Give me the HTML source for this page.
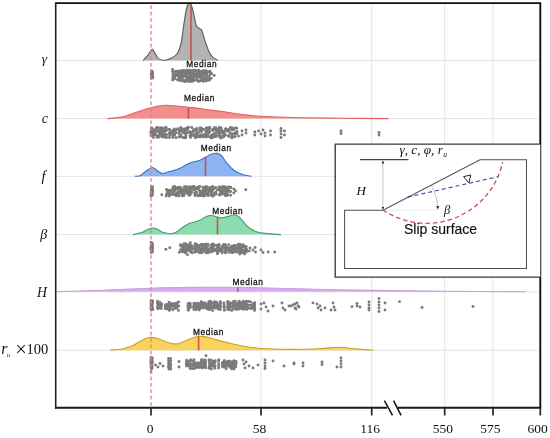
<!DOCTYPE html>
<html><head><meta charset="utf-8"><title>Raincloud plot</title>
<style>html,body{margin:0;padding:0;background:#fff;}body{width:550px;height:438px;position:relative;overflow:hidden;}</style>
</head><body>
<svg width="550" height="438" viewBox="0 0 550 438" style="position:absolute;left:0;top:0">
<line x1="56" y1="60.5" x2="540" y2="60.5" stroke="#e4e4e4" stroke-width="1"/>
<line x1="56" y1="118.6" x2="540" y2="118.6" stroke="#e4e4e4" stroke-width="1"/>
<line x1="56" y1="176.3" x2="540" y2="176.3" stroke="#e4e4e4" stroke-width="1"/>
<line x1="56" y1="234.6" x2="540" y2="234.6" stroke="#e4e4e4" stroke-width="1"/>
<line x1="56" y1="291.8" x2="540" y2="291.8" stroke="#e4e4e4" stroke-width="1"/>
<line x1="56" y1="350.3" x2="540" y2="350.3" stroke="#e4e4e4" stroke-width="1"/>
<line x1="261.0" y1="4" x2="261.0" y2="407" stroke="#e4e4e4" stroke-width="1"/>
<line x1="371.7" y1="4" x2="371.7" y2="407" stroke="#e4e4e4" stroke-width="1"/>
<line x1="444.7" y1="4" x2="444.7" y2="407" stroke="#e4e4e4" stroke-width="1"/>
<line x1="493.0" y1="4" x2="493.0" y2="407" stroke="#e4e4e4" stroke-width="1"/>
<path d="M143.1,60.4 C143.9,59.6 146.2,57.2 147.7,55.4 C149.2,53.6 150.8,49.6 152.1,49.4 C153.4,49.2 154.4,52.7 155.5,54.2 C156.6,55.7 157.0,57.6 158.5,58.6 C160.0,59.6 162.6,60.3 164.7,60.2 C166.8,60.1 168.8,59.3 170.9,58.2 C173.0,57.1 175.4,56.3 177.1,53.8 C178.8,51.4 179.8,48.6 181.0,43.5 C182.2,38.4 183.1,29.1 184.0,23.4 C184.9,17.7 185.6,12.9 186.4,9.5 C187.2,6.1 188.2,3.3 189.1,2.8 C190.0,2.3 191.0,4.2 191.8,6.4 C192.6,8.6 193.3,12.5 194.1,15.7 C194.9,18.9 195.5,23.6 196.4,25.7 C197.3,27.8 198.6,27.8 199.5,28.6 C200.4,29.4 200.9,28.5 201.8,30.5 C202.7,32.5 203.7,37.0 204.9,40.4 C206.1,43.9 207.5,48.4 208.8,51.2 C210.1,54.0 211.1,55.7 212.6,57.2 C214.1,58.7 217.1,59.9 218.0,60.4 L218.0,60.4 L143.1,60.4 Z" fill="#b3b3b3" stroke="none"/>
<path d="M143.1,60.4 C143.9,59.6 146.2,57.2 147.7,55.4 C149.2,53.6 150.8,49.6 152.1,49.4 C153.4,49.2 154.4,52.7 155.5,54.2 C156.6,55.7 157.0,57.6 158.5,58.6 C160.0,59.6 162.6,60.3 164.7,60.2 C166.8,60.1 168.8,59.3 170.9,58.2 C173.0,57.1 175.4,56.3 177.1,53.8 C178.8,51.4 179.8,48.6 181.0,43.5 C182.2,38.4 183.1,29.1 184.0,23.4 C184.9,17.7 185.6,12.9 186.4,9.5 C187.2,6.1 188.2,3.3 189.1,2.8 C190.0,2.3 191.0,4.2 191.8,6.4 C192.6,8.6 193.3,12.5 194.1,15.7 C194.9,18.9 195.5,23.6 196.4,25.7 C197.3,27.8 198.6,27.8 199.5,28.6 C200.4,29.4 200.9,28.5 201.8,30.5 C202.7,32.5 203.7,37.0 204.9,40.4 C206.1,43.9 207.5,48.4 208.8,51.2 C210.1,54.0 211.1,55.7 212.6,57.2 C214.1,58.7 217.1,59.9 218.0,60.4" fill="none" stroke="#595959" stroke-width="1.1"/>
<line x1="191.0" y1="5.3" x2="191.0" y2="60.4" stroke="#cf4747" stroke-opacity="0.92" stroke-width="1.6"/>
<path d="M107.3,118.6 C109.1,118.4 114.9,118.1 118.2,117.6 C121.5,117.1 124.3,116.4 127.3,115.5 C130.3,114.6 133.4,113.2 136.4,112.2 C139.4,111.2 143.1,110.0 145.5,109.3 C147.9,108.6 148.8,108.3 150.9,107.8 C153.0,107.2 155.8,106.4 158.2,106.0 C160.6,105.6 162.5,105.3 165.5,105.3 C168.5,105.3 172.6,105.7 176.4,106.0 C180.2,106.3 184.6,106.9 188.5,107.3 C192.4,107.7 196.4,108.0 200.0,108.5 C203.6,109.0 205.7,109.4 210.0,110.0 C214.3,110.6 221.0,111.3 226.0,112.0 C231.0,112.7 234.3,113.7 240.0,114.4 C245.7,115.1 253.3,115.8 260.0,116.2 C266.7,116.6 273.3,116.7 280.0,117.0 C286.7,117.3 290.0,117.6 300.0,117.8 C310.0,118.0 325.3,118.1 340.0,118.2 C354.7,118.3 380.3,118.5 388.4,118.6 L388.4,118.6 L107.3,118.6 Z" fill="#f48e8e" stroke="none"/>
<path d="M107.3,118.6 C109.1,118.4 114.9,118.1 118.2,117.6 C121.5,117.1 124.3,116.4 127.3,115.5 C130.3,114.6 133.4,113.2 136.4,112.2 C139.4,111.2 143.1,110.0 145.5,109.3 C147.9,108.6 148.8,108.3 150.9,107.8 C153.0,107.2 155.8,106.4 158.2,106.0 C160.6,105.6 162.5,105.3 165.5,105.3 C168.5,105.3 172.6,105.7 176.4,106.0 C180.2,106.3 184.6,106.9 188.5,107.3 C192.4,107.7 196.4,108.0 200.0,108.5 C203.6,109.0 205.7,109.4 210.0,110.0 C214.3,110.6 221.0,111.3 226.0,112.0 C231.0,112.7 234.3,113.7 240.0,114.4 C245.7,115.1 253.3,115.8 260.0,116.2 C266.7,116.6 273.3,116.7 280.0,117.0 C286.7,117.3 290.0,117.6 300.0,117.8 C310.0,118.0 325.3,118.1 340.0,118.2 C354.7,118.3 380.3,118.5 388.4,118.6" fill="none" stroke="#e06464" stroke-width="1.1"/>
<line x1="188.5" y1="107.3" x2="188.5" y2="118.6" stroke="#cf4747" stroke-opacity="0.92" stroke-width="1.6"/>
<path d="M134.8,176.3 C135.7,176.2 138.3,176.5 140.0,175.8 C141.7,175.0 143.2,173.1 145.1,171.8 C147.0,170.4 149.9,168.3 151.4,167.7 C152.9,167.1 153.0,167.5 154.2,168.2 C155.4,168.9 157.4,170.9 158.8,171.8 C160.2,172.7 161.3,173.5 162.8,173.5 C164.3,173.5 166.1,172.5 167.9,172.0 C169.7,171.5 171.6,171.1 173.5,170.5 C175.4,169.9 177.2,169.5 179.3,168.6 C181.4,167.7 183.6,166.2 185.8,165.1 C188.0,164.0 190.2,162.8 192.4,162.1 C194.6,161.4 196.7,161.6 198.9,160.8 C201.1,160.0 203.3,158.2 205.5,157.1 C207.7,156.0 210.0,154.6 212.0,154.0 C214.0,153.4 215.9,153.1 217.5,153.4 C219.1,153.7 220.2,154.3 221.8,156.0 C223.4,157.7 225.3,161.2 227.3,163.6 C229.3,166.0 231.3,168.4 233.8,170.2 C236.3,172.0 239.6,173.5 242.5,174.5 C245.4,175.5 249.8,176.0 251.3,176.3 L251.3,176.3 L134.8,176.3 Z" fill="#8db3f2" stroke="none"/>
<path d="M134.8,176.3 C135.7,176.2 138.3,176.5 140.0,175.8 C141.7,175.0 143.2,173.1 145.1,171.8 C147.0,170.4 149.9,168.3 151.4,167.7 C152.9,167.1 153.0,167.5 154.2,168.2 C155.4,168.9 157.4,170.9 158.8,171.8 C160.2,172.7 161.3,173.5 162.8,173.5 C164.3,173.5 166.1,172.5 167.9,172.0 C169.7,171.5 171.6,171.1 173.5,170.5 C175.4,169.9 177.2,169.5 179.3,168.6 C181.4,167.7 183.6,166.2 185.8,165.1 C188.0,164.0 190.2,162.8 192.4,162.1 C194.6,161.4 196.7,161.6 198.9,160.8 C201.1,160.0 203.3,158.2 205.5,157.1 C207.7,156.0 210.0,154.6 212.0,154.0 C214.0,153.4 215.9,153.1 217.5,153.4 C219.1,153.7 220.2,154.3 221.8,156.0 C223.4,157.7 225.3,161.2 227.3,163.6 C229.3,166.0 231.3,168.4 233.8,170.2 C236.3,172.0 239.6,173.5 242.5,174.5 C245.4,175.5 249.8,176.0 251.3,176.3" fill="none" stroke="#3a72c8" stroke-width="1.1"/>
<line x1="205.5" y1="157.1" x2="205.5" y2="176.3" stroke="#cf4747" stroke-opacity="0.92" stroke-width="1.6"/>
<path d="M132.9,234.6 C134.3,234.3 139.3,233.4 141.6,232.6 C143.9,231.8 144.9,230.8 146.7,230.0 C148.5,229.2 150.7,228.1 152.5,228.0 C154.3,227.9 155.8,228.6 157.6,229.4 C159.4,230.2 161.3,231.9 163.5,232.6 C165.7,233.3 168.5,233.8 170.7,233.7 C172.9,233.6 174.6,232.9 176.5,231.9 C178.4,230.9 180.5,228.8 182.4,227.5 C184.3,226.2 186.3,224.8 188.2,223.9 C190.1,223.0 192.1,222.8 194.0,222.2 C195.9,221.6 197.7,221.3 199.8,220.3 C201.9,219.3 204.6,217.2 206.5,216.4 C208.4,215.6 209.7,215.4 211.5,215.5 C213.3,215.6 215.3,216.6 217.2,217.0 C219.1,217.4 220.8,218.0 222.9,217.8 C225.0,217.6 227.6,216.5 229.5,216.0 C231.4,215.5 232.8,214.5 234.4,214.7 C236.0,214.9 237.7,215.8 239.3,217.2 C240.9,218.6 242.6,221.1 244.2,222.9 C245.8,224.7 247.2,226.4 249.1,227.8 C251.0,229.2 252.9,230.5 255.6,231.4 C258.3,232.3 261.3,232.9 265.5,233.4 C269.7,233.9 278.4,234.4 281.0,234.6 L281.0,234.6 L132.9,234.6 Z" fill="#8ddcb0" stroke="none"/>
<path d="M132.9,234.6 C134.3,234.3 139.3,233.4 141.6,232.6 C143.9,231.8 144.9,230.8 146.7,230.0 C148.5,229.2 150.7,228.1 152.5,228.0 C154.3,227.9 155.8,228.6 157.6,229.4 C159.4,230.2 161.3,231.9 163.5,232.6 C165.7,233.3 168.5,233.8 170.7,233.7 C172.9,233.6 174.6,232.9 176.5,231.9 C178.4,230.9 180.5,228.8 182.4,227.5 C184.3,226.2 186.3,224.8 188.2,223.9 C190.1,223.0 192.1,222.8 194.0,222.2 C195.9,221.6 197.7,221.3 199.8,220.3 C201.9,219.3 204.6,217.2 206.5,216.4 C208.4,215.6 209.7,215.4 211.5,215.5 C213.3,215.6 215.3,216.6 217.2,217.0 C219.1,217.4 220.8,218.0 222.9,217.8 C225.0,217.6 227.6,216.5 229.5,216.0 C231.4,215.5 232.8,214.5 234.4,214.7 C236.0,214.9 237.7,215.8 239.3,217.2 C240.9,218.6 242.6,221.1 244.2,222.9 C245.8,224.7 247.2,226.4 249.1,227.8 C251.0,229.2 252.9,230.5 255.6,231.4 C258.3,232.3 261.3,232.9 265.5,233.4 C269.7,233.9 278.4,234.4 281.0,234.6" fill="none" stroke="#3f9c6c" stroke-width="1.1"/>
<line x1="217.5" y1="217.0" x2="217.5" y2="234.6" stroke="#cf4747" stroke-opacity="0.92" stroke-width="1.6"/>
<path d="M56.5,291.8 C63.8,291.6 84.4,290.9 100.0,290.3 C115.6,289.7 133.3,288.7 150.0,288.2 C166.7,287.7 185.0,287.5 200.0,287.4 C215.0,287.2 225.0,287.1 240.0,287.3 C255.0,287.5 273.3,288.2 290.0,288.6 C306.7,289.0 323.3,289.5 340.0,289.8 C356.7,290.1 371.7,290.4 390.0,290.6 C408.3,290.8 427.3,291.0 450.0,291.2 C472.7,291.4 513.3,291.7 526.0,291.8 L526.0,291.8 L56.5,291.8 Z" fill="#d9abf2" stroke="none"/>
<path d="M56.5,291.8 C63.8,291.6 84.4,290.9 100.0,290.3 C115.6,289.7 133.3,288.7 150.0,288.2 C166.7,287.7 185.0,287.5 200.0,287.4 C215.0,287.2 225.0,287.1 240.0,287.3 C255.0,287.5 273.3,288.2 290.0,288.6 C306.7,289.0 323.3,289.5 340.0,289.8 C356.7,290.1 371.7,290.4 390.0,290.6 C408.3,290.8 427.3,291.0 450.0,291.2 C472.7,291.4 513.3,291.7 526.0,291.8" fill="none" stroke="#c6a0e2" stroke-width="1.1"/>
<line x1="237.8" y1="287.3" x2="237.8" y2="291.8" stroke="#cf4747" stroke-opacity="0.92" stroke-width="1.6"/>
<path d="M110.2,350.3 C112.1,350.1 118.2,349.7 121.8,349.0 C125.4,348.3 128.8,347.4 132.0,346.1 C135.2,344.8 138.0,342.4 140.7,341.0 C143.4,339.6 146.2,338.4 148.0,337.8 C149.8,337.2 149.9,337.2 151.6,337.4 C153.3,337.6 155.9,338.1 158.2,338.8 C160.5,339.5 163.1,340.9 165.5,341.7 C167.9,342.5 170.6,343.3 172.7,343.6 C174.8,343.9 175.9,344.2 178.2,343.7 C180.5,343.2 183.9,341.5 186.4,340.5 C188.9,339.5 190.7,338.4 192.9,337.7 C195.1,337.0 197.3,336.5 199.5,336.4 C201.7,336.3 203.3,336.4 206.0,336.9 C208.7,337.4 212.2,338.7 215.8,339.6 C219.4,340.6 222.7,341.5 227.3,342.6 C231.9,343.7 237.7,345.2 243.6,346.2 C249.5,347.2 255.3,348.0 262.7,348.5 C270.1,349.0 278.9,349.3 288.2,349.4 C297.5,349.4 310.2,349.2 318.7,348.8 C327.2,348.4 333.5,347.2 339.0,347.2 C344.5,347.1 346.1,348.0 351.8,348.5 C357.5,349.0 369.8,350.0 373.4,350.3 L373.4,350.3 L110.2,350.3 Z" fill="#f9d35c" stroke="none"/>
<path d="M110.2,350.3 C112.1,350.1 118.2,349.7 121.8,349.0 C125.4,348.3 128.8,347.4 132.0,346.1 C135.2,344.8 138.0,342.4 140.7,341.0 C143.4,339.6 146.2,338.4 148.0,337.8 C149.8,337.2 149.9,337.2 151.6,337.4 C153.3,337.6 155.9,338.1 158.2,338.8 C160.5,339.5 163.1,340.9 165.5,341.7 C167.9,342.5 170.6,343.3 172.7,343.6 C174.8,343.9 175.9,344.2 178.2,343.7 C180.5,343.2 183.9,341.5 186.4,340.5 C188.9,339.5 190.7,338.4 192.9,337.7 C195.1,337.0 197.3,336.5 199.5,336.4 C201.7,336.3 203.3,336.4 206.0,336.9 C208.7,337.4 212.2,338.7 215.8,339.6 C219.4,340.6 222.7,341.5 227.3,342.6 C231.9,343.7 237.7,345.2 243.6,346.2 C249.5,347.2 255.3,348.0 262.7,348.5 C270.1,349.0 278.9,349.3 288.2,349.4 C297.5,349.4 310.2,349.2 318.7,348.8 C327.2,348.4 333.5,347.2 339.0,347.2 C344.5,347.1 346.1,348.0 351.8,348.5 C357.5,349.0 369.8,350.0 373.4,350.3" fill="none" stroke="#c9a12a" stroke-width="1.1"/>
<line x1="198.6" y1="336.6" x2="198.6" y2="350.3" stroke="#cf4747" stroke-opacity="0.92" stroke-width="1.6"/>
<g fill="#7b7b7b">
<circle cx="151.5" cy="71.0" r="1.45"/>
<circle cx="151.4" cy="72.1" r="1.45"/>
<circle cx="151.7" cy="73.1" r="1.45"/>
<circle cx="151.3" cy="74.2" r="1.45"/>
<circle cx="151.6" cy="75.3" r="1.45"/>
<circle cx="151.5" cy="76.4" r="1.45"/>
<circle cx="151.3" cy="77.4" r="1.45"/>
<circle cx="151.6" cy="78.5" r="1.45"/>
<circle cx="152.3" cy="71.5" r="1.45"/>
<circle cx="152.6" cy="72.7" r="1.45"/>
<circle cx="152.3" cy="73.9" r="1.45"/>
<circle cx="152.4" cy="75.1" r="1.45"/>
<circle cx="152.6" cy="76.3" r="1.45"/>
<circle cx="152.8" cy="77.5" r="1.45"/>
<circle cx="172.6" cy="69.5" r="1.45"/>
<circle cx="172.6" cy="71.6" r="1.45"/>
<circle cx="172.9" cy="73.7" r="1.45"/>
<circle cx="173.1" cy="75.8" r="1.45"/>
<circle cx="172.8" cy="77.9" r="1.45"/>
<circle cx="172.7" cy="80.0" r="1.45"/>
<circle cx="177.3" cy="79.6" r="1.45"/>
<circle cx="174.2" cy="71.9" r="1.45"/>
<circle cx="176.2" cy="72.6" r="1.45"/>
<circle cx="176.1" cy="74.6" r="1.45"/>
<circle cx="175.7" cy="71.3" r="1.45"/>
<circle cx="174.5" cy="75.1" r="1.45"/>
<circle cx="176.1" cy="75.4" r="1.45"/>
<circle cx="174.6" cy="78.0" r="1.45"/>
<circle cx="174.4" cy="76.2" r="1.45"/>
<circle cx="177.7" cy="73.7" r="1.45"/>
<circle cx="177.4" cy="75.0" r="1.45"/>
<circle cx="177.4" cy="75.8" r="1.45"/>
<circle cx="174.5" cy="78.7" r="1.45"/>
<circle cx="176.2" cy="74.0" r="1.45"/>
<circle cx="198.5" cy="76.8" r="1.45"/>
<circle cx="192.2" cy="80.9" r="1.45"/>
<circle cx="192.1" cy="71.0" r="1.45"/>
<circle cx="198.5" cy="81.4" r="1.45"/>
<circle cx="201.5" cy="74.6" r="1.45"/>
<circle cx="196.5" cy="75.5" r="1.45"/>
<circle cx="182.2" cy="71.0" r="1.45"/>
<circle cx="199.8" cy="73.1" r="1.45"/>
<circle cx="189.0" cy="71.2" r="1.45"/>
<circle cx="190.4" cy="80.2" r="1.45"/>
<circle cx="201.8" cy="73.4" r="1.45"/>
<circle cx="190.3" cy="80.2" r="1.45"/>
<circle cx="206.2" cy="72.3" r="1.45"/>
<circle cx="183.8" cy="75.7" r="1.45"/>
<circle cx="195.1" cy="70.3" r="1.45"/>
<circle cx="190.3" cy="76.6" r="1.45"/>
<circle cx="206.5" cy="76.1" r="1.45"/>
<circle cx="195.3" cy="70.9" r="1.45"/>
<circle cx="205.0" cy="80.1" r="1.45"/>
<circle cx="201.5" cy="74.8" r="1.45"/>
<circle cx="180.9" cy="71.0" r="1.45"/>
<circle cx="179.0" cy="72.1" r="1.45"/>
<circle cx="186.9" cy="70.3" r="1.45"/>
<circle cx="182.2" cy="74.4" r="1.45"/>
<circle cx="179.4" cy="77.2" r="1.45"/>
<circle cx="182.3" cy="74.2" r="1.45"/>
<circle cx="188.6" cy="79.8" r="1.45"/>
<circle cx="206.4" cy="75.7" r="1.45"/>
<circle cx="180.6" cy="74.1" r="1.45"/>
<circle cx="185.8" cy="72.1" r="1.45"/>
<circle cx="179.5" cy="76.2" r="1.45"/>
<circle cx="182.4" cy="70.6" r="1.45"/>
<circle cx="193.9" cy="80.0" r="1.45"/>
<circle cx="198.3" cy="74.4" r="1.45"/>
<circle cx="182.6" cy="76.3" r="1.45"/>
<circle cx="199.9" cy="72.8" r="1.45"/>
<circle cx="201.9" cy="79.8" r="1.45"/>
<circle cx="201.8" cy="78.6" r="1.45"/>
<circle cx="184.0" cy="74.3" r="1.45"/>
<circle cx="178.9" cy="73.4" r="1.45"/>
<circle cx="185.7" cy="81.0" r="1.45"/>
<circle cx="190.7" cy="81.4" r="1.45"/>
<circle cx="206.3" cy="72.8" r="1.45"/>
<circle cx="183.8" cy="72.6" r="1.45"/>
<circle cx="197.0" cy="79.7" r="1.45"/>
<circle cx="192.1" cy="79.3" r="1.45"/>
<circle cx="180.9" cy="80.5" r="1.45"/>
<circle cx="200.2" cy="75.7" r="1.45"/>
<circle cx="182.6" cy="74.0" r="1.45"/>
<circle cx="201.9" cy="74.7" r="1.45"/>
<circle cx="190.7" cy="78.4" r="1.45"/>
<circle cx="182.2" cy="72.0" r="1.45"/>
<circle cx="205.0" cy="71.9" r="1.45"/>
<circle cx="201.9" cy="77.7" r="1.45"/>
<circle cx="188.8" cy="71.8" r="1.45"/>
<circle cx="179.5" cy="77.6" r="1.45"/>
<circle cx="193.9" cy="75.2" r="1.45"/>
<circle cx="203.4" cy="72.7" r="1.45"/>
<circle cx="185.5" cy="73.0" r="1.45"/>
<circle cx="195.1" cy="75.0" r="1.45"/>
<circle cx="182.6" cy="74.3" r="1.45"/>
<circle cx="192.1" cy="80.4" r="1.45"/>
<circle cx="190.7" cy="75.9" r="1.45"/>
<circle cx="193.6" cy="70.5" r="1.45"/>
<circle cx="190.2" cy="70.3" r="1.45"/>
<circle cx="201.4" cy="75.6" r="1.45"/>
<circle cx="198.4" cy="74.0" r="1.45"/>
<circle cx="193.6" cy="79.1" r="1.45"/>
<circle cx="180.8" cy="73.1" r="1.45"/>
<circle cx="185.8" cy="76.0" r="1.45"/>
<circle cx="193.8" cy="80.5" r="1.45"/>
<circle cx="190.5" cy="76.0" r="1.45"/>
<circle cx="193.7" cy="75.4" r="1.45"/>
<circle cx="193.6" cy="80.8" r="1.45"/>
<circle cx="198.6" cy="80.9" r="1.45"/>
<circle cx="185.6" cy="80.9" r="1.45"/>
<circle cx="201.4" cy="71.7" r="1.45"/>
<circle cx="190.1" cy="73.0" r="1.45"/>
<circle cx="180.9" cy="79.1" r="1.45"/>
<circle cx="204.6" cy="78.3" r="1.45"/>
<circle cx="196.6" cy="80.2" r="1.45"/>
<circle cx="206.2" cy="81.0" r="1.45"/>
<circle cx="188.8" cy="81.4" r="1.45"/>
<circle cx="201.4" cy="75.1" r="1.45"/>
<circle cx="193.5" cy="72.5" r="1.45"/>
<circle cx="187.3" cy="70.5" r="1.45"/>
<circle cx="193.6" cy="70.5" r="1.45"/>
<circle cx="187.3" cy="76.0" r="1.45"/>
<circle cx="179.5" cy="79.1" r="1.45"/>
<circle cx="206.2" cy="73.3" r="1.45"/>
<circle cx="179.4" cy="73.3" r="1.45"/>
<circle cx="182.4" cy="80.5" r="1.45"/>
<circle cx="201.5" cy="72.0" r="1.45"/>
<circle cx="204.8" cy="78.1" r="1.45"/>
<circle cx="180.5" cy="78.0" r="1.45"/>
<circle cx="190.1" cy="80.8" r="1.45"/>
<circle cx="197.0" cy="71.2" r="1.45"/>
<circle cx="202.9" cy="80.0" r="1.45"/>
<circle cx="190.3" cy="76.5" r="1.45"/>
<circle cx="204.7" cy="71.7" r="1.45"/>
<circle cx="193.4" cy="71.5" r="1.45"/>
<circle cx="182.1" cy="72.6" r="1.45"/>
<circle cx="187.1" cy="78.8" r="1.45"/>
<circle cx="187.2" cy="72.3" r="1.45"/>
<circle cx="188.5" cy="73.1" r="1.45"/>
<circle cx="179.3" cy="76.5" r="1.45"/>
<circle cx="184.0" cy="80.8" r="1.45"/>
<circle cx="181.0" cy="75.1" r="1.45"/>
<circle cx="192.2" cy="74.7" r="1.45"/>
<circle cx="192.1" cy="81.3" r="1.45"/>
<circle cx="187.4" cy="78.2" r="1.45"/>
<circle cx="196.7" cy="74.2" r="1.45"/>
<circle cx="179.0" cy="71.1" r="1.45"/>
<circle cx="199.9" cy="72.1" r="1.45"/>
<circle cx="181.0" cy="80.1" r="1.45"/>
<circle cx="196.7" cy="73.0" r="1.45"/>
<circle cx="187.2" cy="72.1" r="1.45"/>
<circle cx="190.3" cy="81.1" r="1.45"/>
<circle cx="206.4" cy="73.0" r="1.45"/>
<circle cx="206.3" cy="74.3" r="1.45"/>
<circle cx="177.5" cy="75.6" r="1.45"/>
<circle cx="191.8" cy="76.0" r="1.45"/>
<circle cx="177.5" cy="71.3" r="1.45"/>
<circle cx="188.5" cy="70.6" r="1.45"/>
<circle cx="187.0" cy="76.9" r="1.45"/>
<circle cx="193.8" cy="77.7" r="1.45"/>
<circle cx="198.6" cy="74.7" r="1.45"/>
<circle cx="187.5" cy="72.0" r="1.45"/>
<circle cx="198.5" cy="70.8" r="1.45"/>
<circle cx="201.8" cy="77.3" r="1.45"/>
<circle cx="200.2" cy="71.9" r="1.45"/>
<circle cx="193.6" cy="79.7" r="1.45"/>
<circle cx="201.8" cy="76.8" r="1.45"/>
<circle cx="203.3" cy="78.1" r="1.45"/>
<circle cx="183.7" cy="71.8" r="1.45"/>
<circle cx="188.6" cy="79.7" r="1.45"/>
<circle cx="193.7" cy="77.3" r="1.45"/>
<circle cx="198.4" cy="70.3" r="1.45"/>
<circle cx="201.7" cy="75.9" r="1.45"/>
<circle cx="193.7" cy="71.0" r="1.45"/>
<circle cx="199.9" cy="71.1" r="1.45"/>
<circle cx="185.7" cy="72.6" r="1.45"/>
<circle cx="200.3" cy="75.8" r="1.45"/>
<circle cx="188.8" cy="78.0" r="1.45"/>
<circle cx="200.1" cy="77.5" r="1.45"/>
<circle cx="180.6" cy="73.1" r="1.45"/>
<circle cx="199.9" cy="76.7" r="1.45"/>
<circle cx="177.3" cy="73.3" r="1.45"/>
<circle cx="196.9" cy="77.9" r="1.45"/>
<circle cx="187.2" cy="75.5" r="1.45"/>
<circle cx="191.8" cy="80.3" r="1.45"/>
<circle cx="184.3" cy="80.8" r="1.45"/>
<circle cx="179.2" cy="79.5" r="1.45"/>
<circle cx="206.4" cy="73.3" r="1.45"/>
<circle cx="184.3" cy="72.7" r="1.45"/>
<circle cx="195.0" cy="76.2" r="1.45"/>
<circle cx="206.2" cy="79.5" r="1.45"/>
<circle cx="192.2" cy="78.2" r="1.45"/>
<circle cx="184.2" cy="75.7" r="1.45"/>
<circle cx="178.9" cy="75.8" r="1.45"/>
<circle cx="190.3" cy="71.9" r="1.45"/>
<circle cx="187.1" cy="79.7" r="1.45"/>
<circle cx="177.8" cy="79.7" r="1.45"/>
<circle cx="181.1" cy="78.3" r="1.45"/>
<circle cx="204.7" cy="74.5" r="1.45"/>
<circle cx="189.1" cy="76.9" r="1.45"/>
<circle cx="188.8" cy="73.4" r="1.45"/>
<circle cx="179.0" cy="79.6" r="1.45"/>
<circle cx="185.9" cy="73.1" r="1.45"/>
<circle cx="185.6" cy="72.4" r="1.45"/>
<circle cx="189.1" cy="80.2" r="1.45"/>
<circle cx="201.7" cy="80.5" r="1.45"/>
<circle cx="204.8" cy="78.4" r="1.45"/>
<circle cx="179.3" cy="75.3" r="1.45"/>
<circle cx="200.1" cy="73.5" r="1.45"/>
<circle cx="179.5" cy="71.7" r="1.45"/>
<circle cx="191.9" cy="73.6" r="1.45"/>
<circle cx="200.3" cy="73.2" r="1.45"/>
<circle cx="196.7" cy="76.5" r="1.45"/>
<circle cx="188.6" cy="72.1" r="1.45"/>
<circle cx="184.2" cy="75.9" r="1.45"/>
<circle cx="184.2" cy="81.5" r="1.45"/>
<circle cx="190.2" cy="72.5" r="1.45"/>
<circle cx="180.7" cy="71.3" r="1.45"/>
<circle cx="185.5" cy="76.7" r="1.45"/>
<circle cx="203.3" cy="74.9" r="1.45"/>
<circle cx="190.4" cy="74.5" r="1.45"/>
<circle cx="186.9" cy="73.4" r="1.45"/>
<circle cx="206.2" cy="75.9" r="1.45"/>
<circle cx="197.0" cy="72.7" r="1.45"/>
<circle cx="185.4" cy="74.8" r="1.45"/>
<circle cx="190.7" cy="79.8" r="1.45"/>
<circle cx="202.9" cy="70.7" r="1.45"/>
<circle cx="198.6" cy="75.6" r="1.45"/>
<circle cx="194.9" cy="74.7" r="1.45"/>
<circle cx="205.0" cy="79.9" r="1.45"/>
<circle cx="206.2" cy="71.5" r="1.45"/>
<circle cx="182.4" cy="77.9" r="1.45"/>
<circle cx="204.9" cy="77.6" r="1.45"/>
<circle cx="200.0" cy="76.5" r="1.45"/>
<circle cx="179.4" cy="72.9" r="1.45"/>
<circle cx="204.9" cy="73.7" r="1.45"/>
<circle cx="182.3" cy="77.4" r="1.45"/>
<circle cx="198.2" cy="71.1" r="1.45"/>
<circle cx="193.6" cy="74.6" r="1.45"/>
<circle cx="184.1" cy="70.4" r="1.45"/>
<circle cx="187.2" cy="81.0" r="1.45"/>
<circle cx="197.0" cy="75.6" r="1.45"/>
<circle cx="185.4" cy="81.1" r="1.45"/>
<circle cx="198.3" cy="70.5" r="1.45"/>
<circle cx="192.1" cy="75.0" r="1.45"/>
<circle cx="185.7" cy="80.7" r="1.45"/>
<circle cx="183.7" cy="74.1" r="1.45"/>
<circle cx="190.5" cy="72.5" r="1.45"/>
<circle cx="201.7" cy="76.0" r="1.45"/>
<circle cx="184.3" cy="73.8" r="1.45"/>
<circle cx="201.4" cy="72.8" r="1.45"/>
<circle cx="199.9" cy="81.0" r="1.45"/>
<circle cx="191.8" cy="72.8" r="1.45"/>
<circle cx="190.5" cy="80.9" r="1.45"/>
<circle cx="182.3" cy="72.7" r="1.45"/>
<circle cx="206.2" cy="70.9" r="1.45"/>
<circle cx="179.1" cy="80.4" r="1.45"/>
<circle cx="203.3" cy="81.5" r="1.45"/>
<circle cx="204.7" cy="72.4" r="1.45"/>
<circle cx="204.9" cy="70.7" r="1.45"/>
<circle cx="196.7" cy="74.5" r="1.45"/>
<circle cx="187.0" cy="70.3" r="1.45"/>
<circle cx="185.5" cy="81.0" r="1.45"/>
<circle cx="181.1" cy="72.6" r="1.45"/>
<circle cx="208.2" cy="79.0" r="1.45"/>
<circle cx="209.3" cy="75.6" r="1.45"/>
<circle cx="209.9" cy="73.0" r="1.45"/>
<circle cx="209.8" cy="71.4" r="1.45"/>
<circle cx="209.8" cy="78.5" r="1.45"/>
<circle cx="207.7" cy="71.7" r="1.45"/>
<circle cx="211.1" cy="78.3" r="1.45"/>
<circle cx="211.1" cy="73.7" r="1.45"/>
<circle cx="211.3" cy="73.6" r="1.45"/>
<circle cx="211.1" cy="73.7" r="1.45"/>
<circle cx="206.6" cy="79.9" r="1.45"/>
<circle cx="209.9" cy="71.3" r="1.45"/>
<circle cx="208.0" cy="80.3" r="1.45"/>
<circle cx="211.1" cy="73.5" r="1.45"/>
<circle cx="209.6" cy="80.0" r="1.45"/>
<circle cx="208.2" cy="78.2" r="1.45"/>
<circle cx="214.2" cy="75.5" r="1.45"/>
<circle cx="151.4" cy="127.8" r="1.45"/>
<circle cx="151.4" cy="128.9" r="1.45"/>
<circle cx="151.3" cy="130.1" r="1.45"/>
<circle cx="151.1" cy="131.2" r="1.45"/>
<circle cx="151.1" cy="132.4" r="1.45"/>
<circle cx="151.1" cy="133.5" r="1.45"/>
<circle cx="151.4" cy="134.7" r="1.45"/>
<circle cx="150.9" cy="135.8" r="1.45"/>
<circle cx="152.0" cy="128.5" r="1.45"/>
<circle cx="152.4" cy="129.8" r="1.45"/>
<circle cx="152.0" cy="131.1" r="1.45"/>
<circle cx="151.9" cy="132.4" r="1.45"/>
<circle cx="151.9" cy="133.7" r="1.45"/>
<circle cx="152.2" cy="135.0" r="1.45"/>
<circle cx="181.1" cy="136.8" r="1.45"/>
<circle cx="236.7" cy="128.2" r="1.45"/>
<circle cx="161.6" cy="135.0" r="1.45"/>
<circle cx="190.2" cy="131.8" r="1.45"/>
<circle cx="206.5" cy="135.4" r="1.45"/>
<circle cx="225.7" cy="128.6" r="1.45"/>
<circle cx="223.9" cy="133.4" r="1.45"/>
<circle cx="184.1" cy="129.5" r="1.45"/>
<circle cx="174.2" cy="129.0" r="1.45"/>
<circle cx="228.8" cy="130.8" r="1.45"/>
<circle cx="187.5" cy="132.8" r="1.45"/>
<circle cx="173.0" cy="134.4" r="1.45"/>
<circle cx="236.6" cy="132.4" r="1.45"/>
<circle cx="222.6" cy="137.2" r="1.45"/>
<circle cx="156.7" cy="128.6" r="1.45"/>
<circle cx="169.9" cy="133.6" r="1.45"/>
<circle cx="231.9" cy="136.7" r="1.45"/>
<circle cx="190.3" cy="135.7" r="1.45"/>
<circle cx="233.4" cy="133.7" r="1.45"/>
<circle cx="206.2" cy="131.3" r="1.45"/>
<circle cx="164.6" cy="130.1" r="1.45"/>
<circle cx="203.3" cy="129.5" r="1.45"/>
<circle cx="153.5" cy="134.6" r="1.45"/>
<circle cx="167.9" cy="129.5" r="1.45"/>
<circle cx="220.8" cy="128.0" r="1.45"/>
<circle cx="161.5" cy="133.2" r="1.45"/>
<circle cx="207.8" cy="129.1" r="1.45"/>
<circle cx="212.7" cy="130.4" r="1.45"/>
<circle cx="179.5" cy="130.7" r="1.45"/>
<circle cx="201.5" cy="131.8" r="1.45"/>
<circle cx="227.5" cy="131.2" r="1.45"/>
<circle cx="169.7" cy="129.5" r="1.45"/>
<circle cx="153.8" cy="131.9" r="1.45"/>
<circle cx="222.3" cy="136.8" r="1.45"/>
<circle cx="191.8" cy="127.5" r="1.45"/>
<circle cx="200.1" cy="137.1" r="1.45"/>
<circle cx="160.1" cy="131.3" r="1.45"/>
<circle cx="195.0" cy="130.4" r="1.45"/>
<circle cx="197.1" cy="128.5" r="1.45"/>
<circle cx="195.4" cy="137.7" r="1.45"/>
<circle cx="169.4" cy="137.5" r="1.45"/>
<circle cx="235.2" cy="127.9" r="1.45"/>
<circle cx="231.9" cy="137.1" r="1.45"/>
<circle cx="206.6" cy="129.0" r="1.45"/>
<circle cx="219.0" cy="131.7" r="1.45"/>
<circle cx="225.8" cy="129.3" r="1.45"/>
<circle cx="171.1" cy="132.9" r="1.45"/>
<circle cx="185.4" cy="130.0" r="1.45"/>
<circle cx="214.6" cy="127.7" r="1.45"/>
<circle cx="200.2" cy="127.7" r="1.45"/>
<circle cx="223.8" cy="133.8" r="1.45"/>
<circle cx="200.1" cy="130.6" r="1.45"/>
<circle cx="188.8" cy="131.9" r="1.45"/>
<circle cx="209.6" cy="132.0" r="1.45"/>
<circle cx="155.3" cy="132.6" r="1.45"/>
<circle cx="173.0" cy="135.7" r="1.45"/>
<circle cx="191.8" cy="132.4" r="1.45"/>
<circle cx="161.4" cy="132.0" r="1.45"/>
<circle cx="160.0" cy="132.8" r="1.45"/>
<circle cx="156.9" cy="128.2" r="1.45"/>
<circle cx="216.2" cy="132.8" r="1.45"/>
<circle cx="158.4" cy="131.4" r="1.45"/>
<circle cx="233.4" cy="136.6" r="1.45"/>
<circle cx="238.5" cy="136.1" r="1.45"/>
<circle cx="169.9" cy="132.6" r="1.45"/>
<circle cx="233.8" cy="129.1" r="1.45"/>
<circle cx="221.1" cy="128.0" r="1.45"/>
<circle cx="182.6" cy="129.0" r="1.45"/>
<circle cx="228.7" cy="136.1" r="1.45"/>
<circle cx="164.8" cy="137.2" r="1.45"/>
<circle cx="171.1" cy="132.8" r="1.45"/>
<circle cx="180.5" cy="129.3" r="1.45"/>
<circle cx="166.7" cy="134.6" r="1.45"/>
<circle cx="228.6" cy="135.8" r="1.45"/>
<circle cx="163.2" cy="134.2" r="1.45"/>
<circle cx="184.2" cy="133.3" r="1.45"/>
<circle cx="201.8" cy="128.4" r="1.45"/>
<circle cx="236.9" cy="131.6" r="1.45"/>
<circle cx="220.7" cy="138.0" r="1.45"/>
<circle cx="201.5" cy="135.6" r="1.45"/>
<circle cx="190.2" cy="135.3" r="1.45"/>
<circle cx="157.0" cy="130.0" r="1.45"/>
<circle cx="208.3" cy="133.6" r="1.45"/>
<circle cx="209.5" cy="127.3" r="1.45"/>
<circle cx="155.0" cy="134.0" r="1.45"/>
<circle cx="190.4" cy="137.0" r="1.45"/>
<circle cx="164.6" cy="134.4" r="1.45"/>
<circle cx="154.9" cy="131.1" r="1.45"/>
<circle cx="161.5" cy="129.7" r="1.45"/>
<circle cx="203.3" cy="129.5" r="1.45"/>
<circle cx="206.4" cy="128.8" r="1.45"/>
<circle cx="231.8" cy="128.9" r="1.45"/>
<circle cx="161.7" cy="136.7" r="1.45"/>
<circle cx="219.1" cy="130.2" r="1.45"/>
<circle cx="153.7" cy="133.4" r="1.45"/>
<circle cx="182.5" cy="132.1" r="1.45"/>
<circle cx="232.1" cy="130.0" r="1.45"/>
<circle cx="230.1" cy="133.0" r="1.45"/>
<circle cx="187.0" cy="127.9" r="1.45"/>
<circle cx="218.9" cy="133.2" r="1.45"/>
<circle cx="233.4" cy="129.5" r="1.45"/>
<circle cx="204.8" cy="134.2" r="1.45"/>
<circle cx="222.2" cy="130.6" r="1.45"/>
<circle cx="178.9" cy="136.9" r="1.45"/>
<circle cx="219.3" cy="127.4" r="1.45"/>
<circle cx="224.1" cy="132.3" r="1.45"/>
<circle cx="216.0" cy="129.7" r="1.45"/>
<circle cx="161.4" cy="127.7" r="1.45"/>
<circle cx="180.9" cy="134.8" r="1.45"/>
<circle cx="225.7" cy="130.2" r="1.45"/>
<circle cx="200.0" cy="135.8" r="1.45"/>
<circle cx="196.7" cy="134.2" r="1.45"/>
<circle cx="235.0" cy="136.8" r="1.45"/>
<circle cx="153.5" cy="129.8" r="1.45"/>
<circle cx="216.3" cy="135.4" r="1.45"/>
<circle cx="181.0" cy="130.8" r="1.45"/>
<circle cx="173.0" cy="134.1" r="1.45"/>
<circle cx="211.3" cy="137.9" r="1.45"/>
<circle cx="193.8" cy="134.8" r="1.45"/>
<circle cx="225.6" cy="135.1" r="1.45"/>
<circle cx="201.5" cy="129.6" r="1.45"/>
<circle cx="206.1" cy="137.1" r="1.45"/>
<circle cx="164.5" cy="128.5" r="1.45"/>
<circle cx="231.9" cy="128.8" r="1.45"/>
<circle cx="154.9" cy="134.8" r="1.45"/>
<circle cx="206.5" cy="135.3" r="1.45"/>
<circle cx="158.5" cy="131.2" r="1.45"/>
<circle cx="222.6" cy="136.9" r="1.45"/>
<circle cx="158.6" cy="137.2" r="1.45"/>
<circle cx="233.4" cy="129.5" r="1.45"/>
<circle cx="162.9" cy="136.5" r="1.45"/>
<circle cx="222.5" cy="136.2" r="1.45"/>
<circle cx="206.3" cy="128.4" r="1.45"/>
<circle cx="161.8" cy="129.5" r="1.45"/>
<circle cx="180.8" cy="127.5" r="1.45"/>
<circle cx="174.3" cy="135.0" r="1.45"/>
<circle cx="183.9" cy="137.7" r="1.45"/>
<circle cx="195.4" cy="134.0" r="1.45"/>
<circle cx="155.1" cy="132.0" r="1.45"/>
<circle cx="219.1" cy="134.9" r="1.45"/>
<circle cx="198.2" cy="136.6" r="1.45"/>
<circle cx="160.2" cy="129.1" r="1.45"/>
<circle cx="153.4" cy="135.5" r="1.45"/>
<circle cx="236.5" cy="132.6" r="1.45"/>
<circle cx="195.4" cy="129.3" r="1.45"/>
<circle cx="195.1" cy="136.3" r="1.45"/>
<circle cx="174.7" cy="130.4" r="1.45"/>
<circle cx="171.3" cy="132.7" r="1.45"/>
<circle cx="161.7" cy="128.2" r="1.45"/>
<circle cx="219.3" cy="135.8" r="1.45"/>
<circle cx="206.3" cy="131.6" r="1.45"/>
<circle cx="187.4" cy="128.2" r="1.45"/>
<circle cx="228.5" cy="129.5" r="1.45"/>
<circle cx="176.2" cy="132.7" r="1.45"/>
<circle cx="185.8" cy="129.8" r="1.45"/>
<circle cx="192.0" cy="135.4" r="1.45"/>
<circle cx="217.7" cy="131.1" r="1.45"/>
<circle cx="180.6" cy="136.4" r="1.45"/>
<circle cx="209.7" cy="129.1" r="1.45"/>
<circle cx="190.6" cy="133.6" r="1.45"/>
<circle cx="163.2" cy="136.9" r="1.45"/>
<circle cx="172.6" cy="130.6" r="1.45"/>
<circle cx="213.0" cy="129.0" r="1.45"/>
<circle cx="166.2" cy="130.8" r="1.45"/>
<circle cx="196.6" cy="130.8" r="1.45"/>
<circle cx="169.9" cy="135.2" r="1.45"/>
<circle cx="161.9" cy="128.4" r="1.45"/>
<circle cx="185.9" cy="135.9" r="1.45"/>
<circle cx="216.0" cy="129.4" r="1.45"/>
<circle cx="207.8" cy="129.5" r="1.45"/>
<circle cx="185.3" cy="131.6" r="1.45"/>
<circle cx="220.9" cy="132.7" r="1.45"/>
<circle cx="206.4" cy="128.8" r="1.45"/>
<circle cx="204.7" cy="135.3" r="1.45"/>
<circle cx="230.4" cy="133.5" r="1.45"/>
<circle cx="216.0" cy="129.8" r="1.45"/>
<circle cx="214.6" cy="135.7" r="1.45"/>
<circle cx="213.0" cy="134.6" r="1.45"/>
<circle cx="208.0" cy="130.7" r="1.45"/>
<circle cx="206.2" cy="131.8" r="1.45"/>
<circle cx="219.3" cy="134.1" r="1.45"/>
<circle cx="174.4" cy="132.2" r="1.45"/>
<circle cx="206.3" cy="134.6" r="1.45"/>
<circle cx="231.8" cy="134.4" r="1.45"/>
<circle cx="219.1" cy="132.6" r="1.45"/>
<circle cx="234.9" cy="133.2" r="1.45"/>
<circle cx="166.6" cy="137.5" r="1.45"/>
<circle cx="196.6" cy="133.5" r="1.45"/>
<circle cx="198.5" cy="132.8" r="1.45"/>
<circle cx="208.2" cy="132.9" r="1.45"/>
<circle cx="187.5" cy="129.6" r="1.45"/>
<circle cx="211.1" cy="135.5" r="1.45"/>
<circle cx="163.5" cy="131.1" r="1.45"/>
<circle cx="158.3" cy="131.6" r="1.45"/>
<circle cx="153.6" cy="131.8" r="1.45"/>
<circle cx="212.7" cy="130.2" r="1.45"/>
<circle cx="172.9" cy="137.5" r="1.45"/>
<circle cx="198.2" cy="136.0" r="1.45"/>
<circle cx="185.4" cy="128.7" r="1.45"/>
<circle cx="219.4" cy="134.2" r="1.45"/>
<circle cx="193.6" cy="129.7" r="1.45"/>
<circle cx="235.1" cy="134.2" r="1.45"/>
<circle cx="222.6" cy="132.4" r="1.45"/>
<circle cx="177.6" cy="128.7" r="1.45"/>
<circle cx="223.9" cy="136.5" r="1.45"/>
<circle cx="175.9" cy="130.0" r="1.45"/>
<circle cx="188.6" cy="127.3" r="1.45"/>
<circle cx="214.3" cy="129.9" r="1.45"/>
<circle cx="179.2" cy="131.9" r="1.45"/>
<circle cx="206.5" cy="131.2" r="1.45"/>
<circle cx="232.2" cy="127.9" r="1.45"/>
<circle cx="224.2" cy="135.8" r="1.45"/>
<circle cx="165.0" cy="134.1" r="1.45"/>
<circle cx="153.3" cy="137.6" r="1.45"/>
<circle cx="207.9" cy="128.4" r="1.45"/>
<circle cx="164.6" cy="135.7" r="1.45"/>
<circle cx="182.2" cy="137.1" r="1.45"/>
<circle cx="220.6" cy="136.9" r="1.45"/>
<circle cx="205.0" cy="134.5" r="1.45"/>
<circle cx="229.0" cy="136.4" r="1.45"/>
<circle cx="169.7" cy="133.0" r="1.45"/>
<circle cx="216.0" cy="136.8" r="1.45"/>
<circle cx="199.9" cy="129.8" r="1.45"/>
<circle cx="164.8" cy="127.9" r="1.45"/>
<circle cx="191.8" cy="132.6" r="1.45"/>
<circle cx="195.2" cy="136.6" r="1.45"/>
<circle cx="153.8" cy="132.4" r="1.45"/>
<circle cx="201.7" cy="136.4" r="1.45"/>
<circle cx="185.6" cy="137.7" r="1.45"/>
<circle cx="160.1" cy="134.2" r="1.45"/>
<circle cx="155.3" cy="134.7" r="1.45"/>
<circle cx="231.9" cy="137.9" r="1.45"/>
<circle cx="196.8" cy="137.0" r="1.45"/>
<circle cx="155.3" cy="134.1" r="1.45"/>
<circle cx="182.6" cy="131.3" r="1.45"/>
<circle cx="193.6" cy="135.6" r="1.45"/>
<circle cx="171.2" cy="131.9" r="1.45"/>
<circle cx="200.2" cy="130.5" r="1.45"/>
<circle cx="223.9" cy="132.7" r="1.45"/>
<circle cx="176.0" cy="137.8" r="1.45"/>
<circle cx="208.2" cy="130.9" r="1.45"/>
<circle cx="179.1" cy="133.6" r="1.45"/>
<circle cx="206.6" cy="127.7" r="1.45"/>
<circle cx="214.6" cy="133.2" r="1.45"/>
<circle cx="156.7" cy="127.4" r="1.45"/>
<circle cx="169.9" cy="133.9" r="1.45"/>
<circle cx="209.8" cy="137.1" r="1.45"/>
<circle cx="204.9" cy="134.1" r="1.45"/>
<circle cx="212.9" cy="134.7" r="1.45"/>
<circle cx="171.3" cy="132.2" r="1.45"/>
<circle cx="217.4" cy="129.3" r="1.45"/>
<circle cx="157.0" cy="137.2" r="1.45"/>
<circle cx="207.9" cy="136.2" r="1.45"/>
<circle cx="219.2" cy="130.1" r="1.45"/>
<circle cx="179.2" cy="130.7" r="1.45"/>
<circle cx="190.5" cy="137.4" r="1.45"/>
<circle cx="158.4" cy="127.7" r="1.45"/>
<circle cx="163.4" cy="133.5" r="1.45"/>
<circle cx="230.4" cy="127.5" r="1.45"/>
<circle cx="185.7" cy="137.4" r="1.45"/>
<circle cx="236.8" cy="131.8" r="1.45"/>
<circle cx="161.7" cy="129.6" r="1.45"/>
<circle cx="166.1" cy="127.4" r="1.45"/>
<circle cx="211.0" cy="137.7" r="1.45"/>
<circle cx="160.2" cy="128.7" r="1.45"/>
<circle cx="155.3" cy="129.9" r="1.45"/>
<circle cx="215.8" cy="127.8" r="1.45"/>
<circle cx="219.3" cy="136.5" r="1.45"/>
<circle cx="214.2" cy="134.1" r="1.45"/>
<circle cx="212.8" cy="137.4" r="1.45"/>
<circle cx="174.7" cy="135.0" r="1.45"/>
<circle cx="153.3" cy="134.3" r="1.45"/>
<circle cx="222.1" cy="130.7" r="1.45"/>
<circle cx="214.2" cy="136.6" r="1.45"/>
<circle cx="193.3" cy="131.3" r="1.45"/>
<circle cx="201.6" cy="134.6" r="1.45"/>
<circle cx="165.0" cy="131.2" r="1.45"/>
<circle cx="208.1" cy="131.8" r="1.45"/>
<circle cx="185.8" cy="137.5" r="1.45"/>
<circle cx="219.2" cy="130.5" r="1.45"/>
<circle cx="158.7" cy="134.9" r="1.45"/>
<circle cx="223.9" cy="133.8" r="1.45"/>
<circle cx="237.0" cy="133.8" r="1.45"/>
<circle cx="179.2" cy="136.9" r="1.45"/>
<circle cx="185.7" cy="133.8" r="1.45"/>
<circle cx="229.0" cy="130.4" r="1.45"/>
<circle cx="153.5" cy="131.9" r="1.45"/>
<circle cx="203.4" cy="136.9" r="1.45"/>
<circle cx="157.0" cy="136.1" r="1.45"/>
<circle cx="227.2" cy="130.3" r="1.45"/>
<circle cx="242.0" cy="131.0" r="1.45"/>
<circle cx="242.0" cy="135.0" r="1.45"/>
<circle cx="246.0" cy="133.0" r="1.45"/>
<circle cx="246.0" cy="130.0" r="1.45"/>
<circle cx="254.8" cy="132.0" r="1.45"/>
<circle cx="254.8" cy="135.0" r="1.45"/>
<circle cx="258.6" cy="131.0" r="1.45"/>
<circle cx="261.0" cy="134.0" r="1.45"/>
<circle cx="263.0" cy="130.0" r="1.45"/>
<circle cx="265.0" cy="133.0" r="1.45"/>
<circle cx="265.0" cy="136.0" r="1.45"/>
<circle cx="270.5" cy="131.0" r="1.45"/>
<circle cx="270.5" cy="135.0" r="1.45"/>
<circle cx="281.0" cy="128.5" r="1.45"/>
<circle cx="281.0" cy="131.0" r="1.45"/>
<circle cx="281.0" cy="134.0" r="1.45"/>
<circle cx="281.0" cy="137.5" r="1.45"/>
<circle cx="284.5" cy="131.0" r="1.45"/>
<circle cx="284.5" cy="135.0" r="1.45"/>
<circle cx="341.0" cy="131.0" r="1.45"/>
<circle cx="341.0" cy="133.5" r="1.45"/>
<circle cx="379.0" cy="132.5" r="1.45"/>
<circle cx="379.0" cy="135.0" r="1.45"/>
<circle cx="151.4" cy="186.5" r="1.45"/>
<circle cx="151.4" cy="188.1" r="1.45"/>
<circle cx="151.3" cy="189.7" r="1.45"/>
<circle cx="151.4" cy="191.2" r="1.45"/>
<circle cx="151.1" cy="192.8" r="1.45"/>
<circle cx="151.0" cy="194.4" r="1.45"/>
<circle cx="151.2" cy="196.0" r="1.45"/>
<circle cx="152.6" cy="187.0" r="1.45"/>
<circle cx="152.2" cy="188.6" r="1.45"/>
<circle cx="152.6" cy="190.2" r="1.45"/>
<circle cx="152.7" cy="191.8" r="1.45"/>
<circle cx="152.2" cy="193.4" r="1.45"/>
<circle cx="152.5" cy="195.0" r="1.45"/>
<circle cx="161.8" cy="194.8" r="1.45"/>
<circle cx="209.6" cy="188.4" r="1.45"/>
<circle cx="182.6" cy="194.2" r="1.45"/>
<circle cx="195.0" cy="194.3" r="1.45"/>
<circle cx="215.8" cy="192.1" r="1.45"/>
<circle cx="224.2" cy="191.5" r="1.45"/>
<circle cx="196.9" cy="188.3" r="1.45"/>
<circle cx="177.4" cy="193.3" r="1.45"/>
<circle cx="188.8" cy="190.3" r="1.45"/>
<circle cx="199.8" cy="186.8" r="1.45"/>
<circle cx="230.3" cy="187.4" r="1.45"/>
<circle cx="206.6" cy="187.9" r="1.45"/>
<circle cx="204.7" cy="191.5" r="1.45"/>
<circle cx="166.1" cy="196.1" r="1.45"/>
<circle cx="222.4" cy="192.0" r="1.45"/>
<circle cx="182.6" cy="190.6" r="1.45"/>
<circle cx="227.4" cy="194.4" r="1.45"/>
<circle cx="228.7" cy="186.8" r="1.45"/>
<circle cx="179.0" cy="187.2" r="1.45"/>
<circle cx="169.6" cy="194.9" r="1.45"/>
<circle cx="195.5" cy="195.3" r="1.45"/>
<circle cx="169.7" cy="190.3" r="1.45"/>
<circle cx="173.1" cy="188.9" r="1.45"/>
<circle cx="203.3" cy="195.8" r="1.45"/>
<circle cx="209.5" cy="190.8" r="1.45"/>
<circle cx="176.3" cy="196.1" r="1.45"/>
<circle cx="180.5" cy="188.9" r="1.45"/>
<circle cx="189.0" cy="195.3" r="1.45"/>
<circle cx="220.5" cy="194.1" r="1.45"/>
<circle cx="212.9" cy="196.1" r="1.45"/>
<circle cx="169.4" cy="193.8" r="1.45"/>
<circle cx="227.3" cy="189.3" r="1.45"/>
<circle cx="205.0" cy="187.4" r="1.45"/>
<circle cx="187.1" cy="187.6" r="1.45"/>
<circle cx="196.6" cy="188.7" r="1.45"/>
<circle cx="174.5" cy="186.5" r="1.45"/>
<circle cx="212.6" cy="186.8" r="1.45"/>
<circle cx="225.4" cy="195.6" r="1.45"/>
<circle cx="222.6" cy="187.8" r="1.45"/>
<circle cx="195.0" cy="195.5" r="1.45"/>
<circle cx="220.9" cy="190.8" r="1.45"/>
<circle cx="187.4" cy="191.1" r="1.45"/>
<circle cx="206.2" cy="188.6" r="1.45"/>
<circle cx="169.7" cy="191.8" r="1.45"/>
<circle cx="174.6" cy="189.0" r="1.45"/>
<circle cx="191.8" cy="189.1" r="1.45"/>
<circle cx="220.7" cy="188.0" r="1.45"/>
<circle cx="198.3" cy="195.3" r="1.45"/>
<circle cx="173.1" cy="187.0" r="1.45"/>
<circle cx="224.1" cy="188.5" r="1.45"/>
<circle cx="196.7" cy="188.9" r="1.45"/>
<circle cx="179.1" cy="196.1" r="1.45"/>
<circle cx="230.7" cy="187.4" r="1.45"/>
<circle cx="184.2" cy="187.0" r="1.45"/>
<circle cx="212.7" cy="196.0" r="1.45"/>
<circle cx="166.6" cy="189.7" r="1.45"/>
<circle cx="174.1" cy="194.6" r="1.45"/>
<circle cx="199.8" cy="190.7" r="1.45"/>
<circle cx="225.4" cy="192.0" r="1.45"/>
<circle cx="174.2" cy="194.0" r="1.45"/>
<circle cx="212.6" cy="187.2" r="1.45"/>
<circle cx="171.3" cy="191.3" r="1.45"/>
<circle cx="183.8" cy="192.4" r="1.45"/>
<circle cx="211.4" cy="192.1" r="1.45"/>
<circle cx="178.9" cy="193.6" r="1.45"/>
<circle cx="192.1" cy="186.9" r="1.45"/>
<circle cx="219.1" cy="194.7" r="1.45"/>
<circle cx="222.4" cy="186.6" r="1.45"/>
<circle cx="225.6" cy="194.9" r="1.45"/>
<circle cx="182.2" cy="194.5" r="1.45"/>
<circle cx="190.2" cy="190.0" r="1.45"/>
<circle cx="204.5" cy="191.5" r="1.45"/>
<circle cx="195.2" cy="187.6" r="1.45"/>
<circle cx="213.0" cy="194.9" r="1.45"/>
<circle cx="187.3" cy="190.1" r="1.45"/>
<circle cx="214.1" cy="195.0" r="1.45"/>
<circle cx="227.2" cy="191.4" r="1.45"/>
<circle cx="200.0" cy="186.6" r="1.45"/>
<circle cx="228.6" cy="188.2" r="1.45"/>
<circle cx="172.7" cy="194.4" r="1.45"/>
<circle cx="167.8" cy="193.2" r="1.45"/>
<circle cx="178.9" cy="192.3" r="1.45"/>
<circle cx="203.2" cy="193.3" r="1.45"/>
<circle cx="173.0" cy="193.4" r="1.45"/>
<circle cx="167.8" cy="191.2" r="1.45"/>
<circle cx="198.3" cy="187.6" r="1.45"/>
<circle cx="191.8" cy="192.2" r="1.45"/>
<circle cx="222.2" cy="192.0" r="1.45"/>
<circle cx="214.2" cy="194.5" r="1.45"/>
<circle cx="227.1" cy="190.5" r="1.45"/>
<circle cx="220.8" cy="190.3" r="1.45"/>
<circle cx="227.4" cy="189.7" r="1.45"/>
<circle cx="180.7" cy="190.7" r="1.45"/>
<circle cx="230.6" cy="195.3" r="1.45"/>
<circle cx="219.4" cy="186.9" r="1.45"/>
<circle cx="200.3" cy="195.6" r="1.45"/>
<circle cx="182.4" cy="192.6" r="1.45"/>
<circle cx="188.8" cy="187.1" r="1.45"/>
<circle cx="193.6" cy="186.6" r="1.45"/>
<circle cx="174.7" cy="194.0" r="1.45"/>
<circle cx="227.3" cy="194.3" r="1.45"/>
<circle cx="224.2" cy="186.7" r="1.45"/>
<circle cx="207.9" cy="193.0" r="1.45"/>
<circle cx="184.0" cy="195.5" r="1.45"/>
<circle cx="206.3" cy="191.5" r="1.45"/>
<circle cx="193.9" cy="189.2" r="1.45"/>
<circle cx="185.7" cy="187.6" r="1.45"/>
<circle cx="205.1" cy="191.4" r="1.45"/>
<circle cx="184.0" cy="191.6" r="1.45"/>
<circle cx="175.8" cy="187.7" r="1.45"/>
<circle cx="185.5" cy="189.2" r="1.45"/>
<circle cx="180.6" cy="191.8" r="1.45"/>
<circle cx="220.9" cy="192.0" r="1.45"/>
<circle cx="207.8" cy="193.4" r="1.45"/>
<circle cx="195.2" cy="192.4" r="1.45"/>
<circle cx="196.7" cy="188.8" r="1.45"/>
<circle cx="180.8" cy="190.2" r="1.45"/>
<circle cx="202.9" cy="189.9" r="1.45"/>
<circle cx="222.2" cy="191.9" r="1.45"/>
<circle cx="198.3" cy="196.1" r="1.45"/>
<circle cx="185.8" cy="188.0" r="1.45"/>
<circle cx="169.8" cy="190.7" r="1.45"/>
<circle cx="169.5" cy="190.7" r="1.45"/>
<circle cx="214.2" cy="188.6" r="1.45"/>
<circle cx="228.9" cy="187.9" r="1.45"/>
<circle cx="187.1" cy="193.0" r="1.45"/>
<circle cx="206.6" cy="194.4" r="1.45"/>
<circle cx="200.1" cy="193.7" r="1.45"/>
<circle cx="216.0" cy="194.1" r="1.45"/>
<circle cx="211.4" cy="187.6" r="1.45"/>
<circle cx="222.1" cy="193.9" r="1.45"/>
<circle cx="203.2" cy="195.8" r="1.45"/>
<circle cx="203.2" cy="194.1" r="1.45"/>
<circle cx="222.5" cy="190.1" r="1.45"/>
<circle cx="195.2" cy="193.5" r="1.45"/>
<circle cx="185.5" cy="191.8" r="1.45"/>
<circle cx="190.3" cy="194.1" r="1.45"/>
<circle cx="220.8" cy="190.8" r="1.45"/>
<circle cx="177.5" cy="187.8" r="1.45"/>
<circle cx="203.2" cy="187.3" r="1.45"/>
<circle cx="225.5" cy="194.7" r="1.45"/>
<circle cx="221.1" cy="188.4" r="1.45"/>
<circle cx="193.8" cy="186.5" r="1.45"/>
<circle cx="168.0" cy="191.3" r="1.45"/>
<circle cx="225.8" cy="191.7" r="1.45"/>
<circle cx="230.4" cy="191.5" r="1.45"/>
<circle cx="211.1" cy="189.9" r="1.45"/>
<circle cx="204.7" cy="195.7" r="1.45"/>
<circle cx="209.6" cy="187.4" r="1.45"/>
<circle cx="190.3" cy="191.9" r="1.45"/>
<circle cx="203.4" cy="195.9" r="1.45"/>
<circle cx="196.8" cy="192.5" r="1.45"/>
<circle cx="230.3" cy="191.6" r="1.45"/>
<circle cx="219.0" cy="189.5" r="1.45"/>
<circle cx="229.0" cy="191.4" r="1.45"/>
<circle cx="173.0" cy="193.2" r="1.45"/>
<circle cx="219.5" cy="195.1" r="1.45"/>
<circle cx="193.4" cy="189.2" r="1.45"/>
<circle cx="198.4" cy="188.2" r="1.45"/>
<circle cx="177.7" cy="192.3" r="1.45"/>
<circle cx="189.1" cy="192.6" r="1.45"/>
<circle cx="167.9" cy="194.1" r="1.45"/>
<circle cx="185.7" cy="186.4" r="1.45"/>
<circle cx="185.8" cy="192.1" r="1.45"/>
<circle cx="209.4" cy="191.3" r="1.45"/>
<circle cx="201.5" cy="192.7" r="1.45"/>
<circle cx="200.3" cy="192.0" r="1.45"/>
<circle cx="191.8" cy="187.9" r="1.45"/>
<circle cx="215.8" cy="187.4" r="1.45"/>
<circle cx="177.6" cy="194.5" r="1.45"/>
<circle cx="206.6" cy="187.0" r="1.45"/>
<circle cx="166.6" cy="189.6" r="1.45"/>
<circle cx="212.7" cy="188.1" r="1.45"/>
<circle cx="182.2" cy="195.3" r="1.45"/>
<circle cx="203.1" cy="190.8" r="1.45"/>
<circle cx="190.1" cy="195.1" r="1.45"/>
<circle cx="203.5" cy="190.7" r="1.45"/>
<circle cx="206.2" cy="186.8" r="1.45"/>
<circle cx="227.4" cy="189.5" r="1.45"/>
<circle cx="224.2" cy="189.4" r="1.45"/>
<circle cx="205.1" cy="191.3" r="1.45"/>
<circle cx="227.0" cy="190.2" r="1.45"/>
<circle cx="212.6" cy="189.4" r="1.45"/>
<circle cx="222.4" cy="194.2" r="1.45"/>
<circle cx="180.6" cy="189.9" r="1.45"/>
<circle cx="177.9" cy="189.2" r="1.45"/>
<circle cx="201.4" cy="191.6" r="1.45"/>
<circle cx="190.3" cy="187.0" r="1.45"/>
<circle cx="174.6" cy="189.8" r="1.45"/>
<circle cx="182.2" cy="189.2" r="1.45"/>
<circle cx="180.5" cy="192.9" r="1.45"/>
<circle cx="187.0" cy="193.3" r="1.45"/>
<circle cx="171.1" cy="194.6" r="1.45"/>
<circle cx="174.4" cy="194.6" r="1.45"/>
<circle cx="217.4" cy="189.9" r="1.45"/>
<circle cx="212.7" cy="195.8" r="1.45"/>
<circle cx="179.5" cy="191.3" r="1.45"/>
<circle cx="180.8" cy="187.7" r="1.45"/>
<circle cx="211.1" cy="195.2" r="1.45"/>
<circle cx="204.7" cy="188.8" r="1.45"/>
<circle cx="204.6" cy="194.9" r="1.45"/>
<circle cx="174.4" cy="191.7" r="1.45"/>
<circle cx="184.2" cy="190.2" r="1.45"/>
<circle cx="208.0" cy="189.4" r="1.45"/>
<circle cx="190.2" cy="188.1" r="1.45"/>
<circle cx="220.7" cy="192.9" r="1.45"/>
<circle cx="172.8" cy="189.9" r="1.45"/>
<circle cx="198.3" cy="187.0" r="1.45"/>
<circle cx="185.4" cy="187.6" r="1.45"/>
<circle cx="212.7" cy="190.4" r="1.45"/>
<circle cx="225.8" cy="195.1" r="1.45"/>
<circle cx="222.2" cy="189.1" r="1.45"/>
<circle cx="168.1" cy="192.9" r="1.45"/>
<circle cx="188.7" cy="192.9" r="1.45"/>
<circle cx="211.0" cy="194.7" r="1.45"/>
<circle cx="188.9" cy="188.2" r="1.45"/>
<circle cx="173.0" cy="193.6" r="1.45"/>
<circle cx="212.5" cy="186.8" r="1.45"/>
<circle cx="175.8" cy="189.4" r="1.45"/>
<circle cx="190.1" cy="189.4" r="1.45"/>
<circle cx="207.8" cy="194.6" r="1.45"/>
<circle cx="203.3" cy="188.9" r="1.45"/>
<circle cx="193.7" cy="189.8" r="1.45"/>
<circle cx="166.6" cy="194.0" r="1.45"/>
<circle cx="183.7" cy="194.8" r="1.45"/>
<circle cx="204.5" cy="188.8" r="1.45"/>
<circle cx="173.0" cy="188.5" r="1.45"/>
<circle cx="225.7" cy="187.2" r="1.45"/>
<circle cx="211.1" cy="193.7" r="1.45"/>
<circle cx="219.1" cy="187.3" r="1.45"/>
<circle cx="227.2" cy="195.5" r="1.45"/>
<circle cx="211.3" cy="194.5" r="1.45"/>
<circle cx="206.4" cy="186.9" r="1.45"/>
<circle cx="211.2" cy="191.4" r="1.45"/>
<circle cx="225.4" cy="193.9" r="1.45"/>
<circle cx="168.1" cy="194.3" r="1.45"/>
<circle cx="182.4" cy="195.9" r="1.45"/>
<circle cx="208.0" cy="188.8" r="1.45"/>
<circle cx="169.5" cy="190.4" r="1.45"/>
<circle cx="179.1" cy="187.7" r="1.45"/>
<circle cx="211.3" cy="188.7" r="1.45"/>
<circle cx="180.8" cy="190.8" r="1.45"/>
<circle cx="227.1" cy="189.3" r="1.45"/>
<circle cx="223.8" cy="191.9" r="1.45"/>
<circle cx="187.4" cy="191.8" r="1.45"/>
<circle cx="215.8" cy="192.9" r="1.45"/>
<circle cx="204.8" cy="193.9" r="1.45"/>
<circle cx="219.0" cy="189.2" r="1.45"/>
<circle cx="188.6" cy="187.0" r="1.45"/>
<circle cx="183.8" cy="193.3" r="1.45"/>
<circle cx="195.0" cy="189.6" r="1.45"/>
<circle cx="196.7" cy="188.0" r="1.45"/>
<circle cx="169.3" cy="196.1" r="1.45"/>
<circle cx="214.2" cy="193.4" r="1.45"/>
<circle cx="230.4" cy="187.5" r="1.45"/>
<circle cx="198.4" cy="188.3" r="1.45"/>
<circle cx="201.3" cy="195.4" r="1.45"/>
<circle cx="208.1" cy="195.6" r="1.45"/>
<circle cx="207.9" cy="188.8" r="1.45"/>
<circle cx="174.1" cy="194.0" r="1.45"/>
<circle cx="220.7" cy="188.2" r="1.45"/>
<circle cx="208.2" cy="195.5" r="1.45"/>
<circle cx="176.2" cy="194.5" r="1.45"/>
<circle cx="214.3" cy="188.2" r="1.45"/>
<circle cx="219.1" cy="190.0" r="1.45"/>
<circle cx="201.5" cy="194.5" r="1.45"/>
<circle cx="180.5" cy="192.0" r="1.45"/>
<circle cx="206.6" cy="193.3" r="1.45"/>
<circle cx="225.9" cy="191.2" r="1.45"/>
<circle cx="198.2" cy="189.3" r="1.45"/>
<circle cx="202.9" cy="193.1" r="1.45"/>
<circle cx="233.8" cy="189.0" r="1.45"/>
<circle cx="233.8" cy="193.0" r="1.45"/>
<circle cx="235.5" cy="191.0" r="1.45"/>
<circle cx="245.8" cy="189.8" r="1.45"/>
<circle cx="151.0" cy="242.5" r="1.45"/>
<circle cx="151.2" cy="243.9" r="1.45"/>
<circle cx="151.5" cy="245.4" r="1.45"/>
<circle cx="151.0" cy="246.8" r="1.45"/>
<circle cx="150.9" cy="248.2" r="1.45"/>
<circle cx="151.2" cy="249.6" r="1.45"/>
<circle cx="151.0" cy="251.1" r="1.45"/>
<circle cx="151.3" cy="252.5" r="1.45"/>
<circle cx="152.1" cy="243.0" r="1.45"/>
<circle cx="152.6" cy="244.8" r="1.45"/>
<circle cx="152.6" cy="246.6" r="1.45"/>
<circle cx="152.6" cy="248.4" r="1.45"/>
<circle cx="152.4" cy="250.2" r="1.45"/>
<circle cx="152.3" cy="252.0" r="1.45"/>
<circle cx="165.9" cy="249.3" r="1.45"/>
<circle cx="169.8" cy="247.8" r="1.45"/>
<circle cx="224.0" cy="247.9" r="1.45"/>
<circle cx="201.6" cy="250.0" r="1.45"/>
<circle cx="235.4" cy="245.7" r="1.45"/>
<circle cx="200.0" cy="249.1" r="1.45"/>
<circle cx="203.0" cy="245.0" r="1.45"/>
<circle cx="201.6" cy="252.7" r="1.45"/>
<circle cx="241.8" cy="252.7" r="1.45"/>
<circle cx="244.9" cy="251.3" r="1.45"/>
<circle cx="184.1" cy="249.5" r="1.45"/>
<circle cx="200.0" cy="252.5" r="1.45"/>
<circle cx="211.3" cy="246.9" r="1.45"/>
<circle cx="203.4" cy="244.5" r="1.45"/>
<circle cx="192.1" cy="248.1" r="1.45"/>
<circle cx="185.7" cy="247.5" r="1.45"/>
<circle cx="219.1" cy="248.9" r="1.45"/>
<circle cx="217.5" cy="245.3" r="1.45"/>
<circle cx="192.2" cy="249.0" r="1.45"/>
<circle cx="187.4" cy="246.5" r="1.45"/>
<circle cx="185.6" cy="246.5" r="1.45"/>
<circle cx="212.8" cy="246.2" r="1.45"/>
<circle cx="217.4" cy="248.7" r="1.45"/>
<circle cx="218.9" cy="247.8" r="1.45"/>
<circle cx="184.0" cy="251.7" r="1.45"/>
<circle cx="216.1" cy="250.8" r="1.45"/>
<circle cx="187.5" cy="250.5" r="1.45"/>
<circle cx="185.8" cy="247.7" r="1.45"/>
<circle cx="190.7" cy="249.1" r="1.45"/>
<circle cx="231.8" cy="251.0" r="1.45"/>
<circle cx="183.8" cy="247.5" r="1.45"/>
<circle cx="180.9" cy="246.1" r="1.45"/>
<circle cx="200.1" cy="248.0" r="1.45"/>
<circle cx="240.1" cy="251.8" r="1.45"/>
<circle cx="217.9" cy="251.8" r="1.45"/>
<circle cx="190.5" cy="247.2" r="1.45"/>
<circle cx="230.5" cy="251.4" r="1.45"/>
<circle cx="187.1" cy="250.6" r="1.45"/>
<circle cx="243.3" cy="244.7" r="1.45"/>
<circle cx="220.6" cy="249.0" r="1.45"/>
<circle cx="233.4" cy="252.3" r="1.45"/>
<circle cx="225.5" cy="246.0" r="1.45"/>
<circle cx="209.8" cy="249.3" r="1.45"/>
<circle cx="186.9" cy="245.2" r="1.45"/>
<circle cx="233.4" cy="249.1" r="1.45"/>
<circle cx="198.5" cy="247.6" r="1.45"/>
<circle cx="189.0" cy="248.9" r="1.45"/>
<circle cx="225.8" cy="252.5" r="1.45"/>
<circle cx="180.7" cy="245.6" r="1.45"/>
<circle cx="213.0" cy="251.2" r="1.45"/>
<circle cx="182.2" cy="251.3" r="1.45"/>
<circle cx="225.5" cy="248.4" r="1.45"/>
<circle cx="190.6" cy="247.7" r="1.45"/>
<circle cx="238.5" cy="245.0" r="1.45"/>
<circle cx="201.4" cy="252.0" r="1.45"/>
<circle cx="218.9" cy="245.8" r="1.45"/>
<circle cx="203.2" cy="249.3" r="1.45"/>
<circle cx="206.3" cy="244.4" r="1.45"/>
<circle cx="219.1" cy="244.5" r="1.45"/>
<circle cx="211.5" cy="244.7" r="1.45"/>
<circle cx="188.9" cy="246.6" r="1.45"/>
<circle cx="198.4" cy="246.6" r="1.45"/>
<circle cx="217.6" cy="252.5" r="1.45"/>
<circle cx="246.1" cy="249.1" r="1.45"/>
<circle cx="232.2" cy="251.0" r="1.45"/>
<circle cx="222.5" cy="247.4" r="1.45"/>
<circle cx="198.6" cy="251.8" r="1.45"/>
<circle cx="243.3" cy="246.9" r="1.45"/>
<circle cx="230.5" cy="248.7" r="1.45"/>
<circle cx="222.3" cy="249.0" r="1.45"/>
<circle cx="206.1" cy="247.2" r="1.45"/>
<circle cx="201.9" cy="248.4" r="1.45"/>
<circle cx="204.6" cy="246.3" r="1.45"/>
<circle cx="203.0" cy="244.4" r="1.45"/>
<circle cx="238.4" cy="248.1" r="1.45"/>
<circle cx="217.5" cy="245.8" r="1.45"/>
<circle cx="183.9" cy="247.0" r="1.45"/>
<circle cx="228.8" cy="252.4" r="1.45"/>
<circle cx="203.5" cy="249.3" r="1.45"/>
<circle cx="185.4" cy="249.3" r="1.45"/>
<circle cx="246.3" cy="251.0" r="1.45"/>
<circle cx="208.2" cy="244.9" r="1.45"/>
<circle cx="213.0" cy="246.7" r="1.45"/>
<circle cx="196.5" cy="245.7" r="1.45"/>
<circle cx="196.9" cy="246.2" r="1.45"/>
<circle cx="206.2" cy="249.5" r="1.45"/>
<circle cx="238.5" cy="246.0" r="1.45"/>
<circle cx="229.1" cy="249.5" r="1.45"/>
<circle cx="185.8" cy="251.8" r="1.45"/>
<circle cx="203.0" cy="245.9" r="1.45"/>
<circle cx="216.2" cy="249.8" r="1.45"/>
<circle cx="241.4" cy="247.1" r="1.45"/>
<circle cx="230.5" cy="247.8" r="1.45"/>
<circle cx="225.5" cy="244.8" r="1.45"/>
<circle cx="207.7" cy="249.7" r="1.45"/>
<circle cx="201.6" cy="249.4" r="1.45"/>
<circle cx="196.8" cy="244.4" r="1.45"/>
<circle cx="241.6" cy="252.8" r="1.45"/>
<circle cx="184.1" cy="250.5" r="1.45"/>
<circle cx="201.4" cy="245.6" r="1.45"/>
<circle cx="189.0" cy="245.1" r="1.45"/>
<circle cx="235.2" cy="248.9" r="1.45"/>
<circle cx="219.2" cy="250.0" r="1.45"/>
<circle cx="220.7" cy="250.7" r="1.45"/>
<circle cx="196.9" cy="250.9" r="1.45"/>
<circle cx="231.9" cy="250.9" r="1.45"/>
<circle cx="244.8" cy="246.7" r="1.45"/>
<circle cx="214.7" cy="245.4" r="1.45"/>
<circle cx="180.8" cy="249.9" r="1.45"/>
<circle cx="231.9" cy="252.8" r="1.45"/>
<circle cx="195.4" cy="245.1" r="1.45"/>
<circle cx="180.6" cy="244.8" r="1.45"/>
<circle cx="212.8" cy="245.9" r="1.45"/>
<circle cx="243.1" cy="245.6" r="1.45"/>
<circle cx="192.1" cy="252.2" r="1.45"/>
<circle cx="190.1" cy="251.0" r="1.45"/>
<circle cx="195.5" cy="248.6" r="1.45"/>
<circle cx="222.3" cy="251.2" r="1.45"/>
<circle cx="211.1" cy="252.1" r="1.45"/>
<circle cx="187.3" cy="244.9" r="1.45"/>
<circle cx="222.3" cy="251.7" r="1.45"/>
<circle cx="184.0" cy="247.8" r="1.45"/>
<circle cx="241.9" cy="249.7" r="1.45"/>
<circle cx="195.1" cy="246.6" r="1.45"/>
<circle cx="207.8" cy="246.0" r="1.45"/>
<circle cx="230.5" cy="246.9" r="1.45"/>
<circle cx="246.2" cy="249.2" r="1.45"/>
<circle cx="190.6" cy="251.8" r="1.45"/>
<circle cx="197.0" cy="251.4" r="1.45"/>
<circle cx="198.3" cy="248.5" r="1.45"/>
<circle cx="239.8" cy="250.2" r="1.45"/>
<circle cx="219.2" cy="249.3" r="1.45"/>
<circle cx="238.2" cy="251.9" r="1.45"/>
<circle cx="203.4" cy="251.7" r="1.45"/>
<circle cx="192.2" cy="252.9" r="1.45"/>
<circle cx="199.7" cy="245.3" r="1.45"/>
<circle cx="244.5" cy="252.1" r="1.45"/>
<circle cx="190.5" cy="245.1" r="1.45"/>
<circle cx="190.5" cy="245.1" r="1.45"/>
<circle cx="203.5" cy="250.5" r="1.45"/>
<circle cx="238.7" cy="244.6" r="1.45"/>
<circle cx="195.4" cy="250.2" r="1.45"/>
<circle cx="182.4" cy="246.3" r="1.45"/>
<circle cx="207.8" cy="244.5" r="1.45"/>
<circle cx="246.3" cy="251.9" r="1.45"/>
<circle cx="187.2" cy="245.5" r="1.45"/>
<circle cx="207.8" cy="250.2" r="1.45"/>
<circle cx="188.9" cy="248.6" r="1.45"/>
<circle cx="187.1" cy="248.6" r="1.45"/>
<circle cx="241.5" cy="246.2" r="1.45"/>
<circle cx="245.0" cy="250.6" r="1.45"/>
<circle cx="198.2" cy="246.6" r="1.45"/>
<circle cx="183.7" cy="248.7" r="1.45"/>
<circle cx="206.4" cy="247.4" r="1.45"/>
<circle cx="180.9" cy="249.9" r="1.45"/>
<circle cx="216.0" cy="250.2" r="1.45"/>
<circle cx="246.6" cy="250.5" r="1.45"/>
<circle cx="206.3" cy="247.9" r="1.45"/>
<circle cx="244.7" cy="247.6" r="1.45"/>
<circle cx="206.2" cy="252.9" r="1.45"/>
<circle cx="179.3" cy="252.3" r="1.45"/>
<circle cx="196.9" cy="247.5" r="1.45"/>
<circle cx="195.0" cy="245.3" r="1.45"/>
<circle cx="237.0" cy="252.1" r="1.45"/>
<circle cx="182.5" cy="247.1" r="1.45"/>
<circle cx="222.4" cy="247.0" r="1.45"/>
<circle cx="244.5" cy="250.7" r="1.45"/>
<circle cx="236.8" cy="249.4" r="1.45"/>
<circle cx="246.2" cy="249.7" r="1.45"/>
<circle cx="230.3" cy="250.4" r="1.45"/>
<circle cx="206.4" cy="249.6" r="1.45"/>
<circle cx="225.5" cy="249.7" r="1.45"/>
<circle cx="215.8" cy="249.6" r="1.45"/>
<circle cx="197.0" cy="248.4" r="1.45"/>
<circle cx="228.8" cy="248.4" r="1.45"/>
<circle cx="195.0" cy="252.3" r="1.45"/>
<circle cx="214.4" cy="248.8" r="1.45"/>
<circle cx="235.0" cy="245.8" r="1.45"/>
<circle cx="235.2" cy="249.8" r="1.45"/>
<circle cx="235.4" cy="251.8" r="1.45"/>
<circle cx="182.3" cy="251.5" r="1.45"/>
<circle cx="235.0" cy="245.6" r="1.45"/>
<circle cx="196.6" cy="247.4" r="1.45"/>
<circle cx="233.6" cy="248.2" r="1.45"/>
<circle cx="185.5" cy="252.9" r="1.45"/>
<circle cx="227.2" cy="248.4" r="1.45"/>
<circle cx="233.8" cy="245.6" r="1.45"/>
<circle cx="225.5" cy="248.8" r="1.45"/>
<circle cx="195.1" cy="247.2" r="1.45"/>
<circle cx="204.5" cy="246.0" r="1.45"/>
<circle cx="217.3" cy="245.8" r="1.45"/>
<circle cx="227.1" cy="247.1" r="1.45"/>
<circle cx="195.4" cy="245.1" r="1.45"/>
<circle cx="222.6" cy="246.0" r="1.45"/>
<circle cx="208.2" cy="249.6" r="1.45"/>
<circle cx="204.5" cy="248.1" r="1.45"/>
<circle cx="204.9" cy="246.8" r="1.45"/>
<circle cx="206.5" cy="251.3" r="1.45"/>
<circle cx="203.1" cy="249.3" r="1.45"/>
<circle cx="241.4" cy="252.7" r="1.45"/>
<circle cx="227.1" cy="250.0" r="1.45"/>
<circle cx="201.3" cy="250.8" r="1.45"/>
<circle cx="204.8" cy="248.6" r="1.45"/>
<circle cx="240.2" cy="244.5" r="1.45"/>
<circle cx="219.2" cy="248.3" r="1.45"/>
<circle cx="236.7" cy="248.4" r="1.45"/>
<circle cx="240.0" cy="248.5" r="1.45"/>
<circle cx="214.6" cy="250.1" r="1.45"/>
<circle cx="228.7" cy="244.6" r="1.45"/>
<circle cx="225.6" cy="250.9" r="1.45"/>
<circle cx="231.8" cy="246.2" r="1.45"/>
<circle cx="184.2" cy="245.2" r="1.45"/>
<circle cx="185.8" cy="249.2" r="1.45"/>
<circle cx="184.1" cy="250.4" r="1.45"/>
<circle cx="212.5" cy="250.2" r="1.45"/>
<circle cx="208.1" cy="252.9" r="1.45"/>
<circle cx="235.4" cy="245.6" r="1.45"/>
<circle cx="201.6" cy="244.4" r="1.45"/>
<circle cx="246.3" cy="246.6" r="1.45"/>
<circle cx="199.9" cy="251.7" r="1.45"/>
<circle cx="217.6" cy="247.9" r="1.45"/>
<circle cx="182.3" cy="251.8" r="1.45"/>
<circle cx="233.8" cy="246.5" r="1.45"/>
<circle cx="193.3" cy="248.9" r="1.45"/>
<circle cx="204.8" cy="248.5" r="1.45"/>
<circle cx="219.1" cy="251.2" r="1.45"/>
<circle cx="193.9" cy="249.1" r="1.45"/>
<circle cx="182.3" cy="248.9" r="1.45"/>
<circle cx="206.4" cy="247.1" r="1.45"/>
<circle cx="198.6" cy="246.8" r="1.45"/>
<circle cx="227.4" cy="249.4" r="1.45"/>
<circle cx="209.9" cy="248.1" r="1.45"/>
<circle cx="238.1" cy="247.8" r="1.45"/>
<circle cx="222.1" cy="253.1" r="1.45"/>
<circle cx="184.1" cy="244.6" r="1.45"/>
<circle cx="241.6" cy="252.3" r="1.45"/>
<circle cx="212.9" cy="250.8" r="1.45"/>
<circle cx="199.8" cy="252.8" r="1.45"/>
<circle cx="189.1" cy="245.0" r="1.45"/>
<circle cx="185.4" cy="252.1" r="1.45"/>
<circle cx="243.1" cy="250.6" r="1.45"/>
<circle cx="197.0" cy="250.9" r="1.45"/>
<circle cx="190.1" cy="251.0" r="1.45"/>
<circle cx="182.6" cy="246.0" r="1.45"/>
<circle cx="195.2" cy="246.4" r="1.45"/>
<circle cx="217.4" cy="253.7" r="1.45"/>
<circle cx="201.8" cy="244.3" r="1.45"/>
<circle cx="233.9" cy="247.3" r="1.45"/>
<circle cx="182.3" cy="250.3" r="1.45"/>
<circle cx="195.2" cy="243.6" r="1.45"/>
<circle cx="211.3" cy="247.7" r="1.45"/>
<circle cx="225.4" cy="252.7" r="1.45"/>
<circle cx="187.5" cy="254.8" r="1.45"/>
<circle cx="243.2" cy="246.0" r="1.45"/>
<circle cx="203.4" cy="248.6" r="1.45"/>
<circle cx="241.4" cy="248.4" r="1.45"/>
<circle cx="238.5" cy="249.1" r="1.45"/>
<circle cx="185.4" cy="245.8" r="1.45"/>
<circle cx="240.2" cy="245.2" r="1.45"/>
<circle cx="241.3" cy="249.8" r="1.45"/>
<circle cx="244.7" cy="254.1" r="1.45"/>
<circle cx="223.7" cy="246.5" r="1.45"/>
<circle cx="209.4" cy="251.6" r="1.45"/>
<circle cx="192.2" cy="246.1" r="1.45"/>
<circle cx="184.0" cy="243.6" r="1.45"/>
<circle cx="216.2" cy="249.8" r="1.45"/>
<circle cx="210.9" cy="248.8" r="1.45"/>
<circle cx="185.7" cy="244.0" r="1.45"/>
<circle cx="219.1" cy="247.0" r="1.45"/>
<circle cx="223.8" cy="244.5" r="1.45"/>
<circle cx="243.1" cy="252.8" r="1.45"/>
<circle cx="238.4" cy="244.2" r="1.45"/>
<circle cx="185.8" cy="243.9" r="1.45"/>
<circle cx="212.8" cy="243.9" r="1.45"/>
<circle cx="211.0" cy="249.0" r="1.45"/>
<circle cx="214.3" cy="244.9" r="1.45"/>
<circle cx="206.2" cy="244.0" r="1.45"/>
<circle cx="195.4" cy="248.6" r="1.45"/>
<circle cx="239.7" cy="254.1" r="1.45"/>
<circle cx="213.0" cy="249.5" r="1.45"/>
<circle cx="225.4" cy="251.7" r="1.45"/>
<circle cx="190.3" cy="242.8" r="1.45"/>
<circle cx="249.3" cy="251.0" r="1.45"/>
<circle cx="250.0" cy="248.0" r="1.45"/>
<circle cx="253.0" cy="250.0" r="1.45"/>
<circle cx="255.1" cy="247.5" r="1.45"/>
<circle cx="255.5" cy="252.0" r="1.45"/>
<circle cx="261.0" cy="250.0" r="1.45"/>
<circle cx="263.0" cy="252.5" r="1.45"/>
<circle cx="268.2" cy="252.0" r="1.45"/>
<circle cx="274.7" cy="252.0" r="1.45"/>
<circle cx="151.1" cy="300.5" r="1.45"/>
<circle cx="151.2" cy="301.9" r="1.45"/>
<circle cx="151.1" cy="303.2" r="1.45"/>
<circle cx="151.4" cy="304.6" r="1.45"/>
<circle cx="151.0" cy="305.9" r="1.45"/>
<circle cx="151.2" cy="307.3" r="1.45"/>
<circle cx="151.0" cy="308.6" r="1.45"/>
<circle cx="151.3" cy="310.0" r="1.45"/>
<circle cx="152.6" cy="301.0" r="1.45"/>
<circle cx="152.5" cy="302.7" r="1.45"/>
<circle cx="152.1" cy="304.4" r="1.45"/>
<circle cx="152.2" cy="306.1" r="1.45"/>
<circle cx="152.5" cy="307.8" r="1.45"/>
<circle cx="152.7" cy="309.5" r="1.45"/>
<circle cx="157.5" cy="301.2" r="1.45"/>
<circle cx="157.8" cy="302.6" r="1.45"/>
<circle cx="157.6" cy="303.4" r="1.45"/>
<circle cx="157.9" cy="305.5" r="1.45"/>
<circle cx="157.9" cy="305.9" r="1.45"/>
<circle cx="157.7" cy="307.4" r="1.45"/>
<circle cx="157.9" cy="308.7" r="1.45"/>
<circle cx="159.9" cy="302.4" r="1.45"/>
<circle cx="159.8" cy="304.8" r="1.45"/>
<circle cx="159.6" cy="306.0" r="1.45"/>
<circle cx="159.8" cy="308.0" r="1.45"/>
<circle cx="161.7" cy="303.9" r="1.45"/>
<circle cx="161.6" cy="305.7" r="1.45"/>
<circle cx="161.3" cy="308.5" r="1.45"/>
<circle cx="165.5" cy="304.6" r="1.45"/>
<circle cx="165.5" cy="305.4" r="1.45"/>
<circle cx="165.4" cy="306.4" r="1.45"/>
<circle cx="165.5" cy="307.0" r="1.45"/>
<circle cx="165.5" cy="308.3" r="1.45"/>
<circle cx="165.6" cy="308.8" r="1.45"/>
<circle cx="167.4" cy="304.5" r="1.45"/>
<circle cx="167.0" cy="306.8" r="1.45"/>
<circle cx="167.2" cy="308.8" r="1.45"/>
<circle cx="169.0" cy="302.1" r="1.45"/>
<circle cx="169.3" cy="303.6" r="1.45"/>
<circle cx="169.4" cy="305.0" r="1.45"/>
<circle cx="169.0" cy="306.6" r="1.45"/>
<circle cx="169.2" cy="307.3" r="1.45"/>
<circle cx="169.0" cy="309.5" r="1.45"/>
<circle cx="169.3" cy="310.4" r="1.45"/>
<circle cx="171.2" cy="303.7" r="1.45"/>
<circle cx="170.9" cy="306.0" r="1.45"/>
<circle cx="170.8" cy="308.7" r="1.45"/>
<circle cx="172.8" cy="303.7" r="1.45"/>
<circle cx="172.8" cy="306.2" r="1.45"/>
<circle cx="172.9" cy="309.8" r="1.45"/>
<circle cx="175.0" cy="303.4" r="1.45"/>
<circle cx="174.7" cy="305.1" r="1.45"/>
<circle cx="174.7" cy="307.5" r="1.45"/>
<circle cx="175.0" cy="308.3" r="1.45"/>
<circle cx="176.9" cy="302.9" r="1.45"/>
<circle cx="176.9" cy="303.8" r="1.45"/>
<circle cx="176.6" cy="305.3" r="1.45"/>
<circle cx="176.9" cy="305.5" r="1.45"/>
<circle cx="176.5" cy="306.7" r="1.45"/>
<circle cx="176.8" cy="308.3" r="1.45"/>
<circle cx="178.7" cy="302.0" r="1.45"/>
<circle cx="178.8" cy="306.0" r="1.45"/>
<circle cx="178.5" cy="310.4" r="1.45"/>
<circle cx="188.1" cy="303.7" r="1.45"/>
<circle cx="187.9" cy="305.6" r="1.45"/>
<circle cx="188.1" cy="307.1" r="1.45"/>
<circle cx="188.0" cy="309.1" r="1.45"/>
<circle cx="188.3" cy="310.2" r="1.45"/>
<circle cx="189.9" cy="303.1" r="1.45"/>
<circle cx="190.0" cy="303.6" r="1.45"/>
<circle cx="190.2" cy="304.6" r="1.45"/>
<circle cx="189.6" cy="305.3" r="1.45"/>
<circle cx="189.8" cy="306.5" r="1.45"/>
<circle cx="190.2" cy="306.4" r="1.45"/>
<circle cx="190.2" cy="307.4" r="1.45"/>
<circle cx="190.0" cy="307.8" r="1.45"/>
<circle cx="194.0" cy="303.2" r="1.45"/>
<circle cx="193.9" cy="305.3" r="1.45"/>
<circle cx="193.6" cy="307.2" r="1.45"/>
<circle cx="193.8" cy="309.4" r="1.45"/>
<circle cx="195.3" cy="303.8" r="1.45"/>
<circle cx="195.8" cy="305.3" r="1.45"/>
<circle cx="195.8" cy="306.5" r="1.45"/>
<circle cx="195.5" cy="307.8" r="1.45"/>
<circle cx="195.7" cy="309.8" r="1.45"/>
<circle cx="197.8" cy="303.3" r="1.45"/>
<circle cx="197.4" cy="303.5" r="1.45"/>
<circle cx="197.3" cy="305.2" r="1.45"/>
<circle cx="197.5" cy="305.5" r="1.45"/>
<circle cx="197.4" cy="306.3" r="1.45"/>
<circle cx="197.4" cy="307.5" r="1.45"/>
<circle cx="197.4" cy="309.1" r="1.45"/>
<circle cx="199.6" cy="303.7" r="1.45"/>
<circle cx="199.2" cy="304.4" r="1.45"/>
<circle cx="199.4" cy="306.0" r="1.45"/>
<circle cx="199.5" cy="306.9" r="1.45"/>
<circle cx="199.3" cy="308.1" r="1.45"/>
<circle cx="199.7" cy="308.8" r="1.45"/>
<circle cx="199.3" cy="310.1" r="1.45"/>
<circle cx="201.4" cy="301.6" r="1.45"/>
<circle cx="201.4" cy="303.0" r="1.45"/>
<circle cx="201.6" cy="304.7" r="1.45"/>
<circle cx="201.5" cy="306.9" r="1.45"/>
<circle cx="201.4" cy="307.7" r="1.45"/>
<circle cx="203.5" cy="303.3" r="1.45"/>
<circle cx="203.3" cy="304.0" r="1.45"/>
<circle cx="203.1" cy="304.8" r="1.45"/>
<circle cx="203.3" cy="305.6" r="1.45"/>
<circle cx="203.1" cy="305.7" r="1.45"/>
<circle cx="203.1" cy="306.9" r="1.45"/>
<circle cx="203.4" cy="306.9" r="1.45"/>
<circle cx="203.2" cy="308.0" r="1.45"/>
<circle cx="205.0" cy="302.7" r="1.45"/>
<circle cx="205.3" cy="304.4" r="1.45"/>
<circle cx="205.1" cy="305.8" r="1.45"/>
<circle cx="205.1" cy="306.8" r="1.45"/>
<circle cx="205.3" cy="307.9" r="1.45"/>
<circle cx="207.0" cy="304.2" r="1.45"/>
<circle cx="207.2" cy="306.0" r="1.45"/>
<circle cx="207.2" cy="307.5" r="1.45"/>
<circle cx="207.2" cy="309.1" r="1.45"/>
<circle cx="209.0" cy="301.7" r="1.45"/>
<circle cx="209.0" cy="302.9" r="1.45"/>
<circle cx="209.0" cy="303.9" r="1.45"/>
<circle cx="208.8" cy="305.5" r="1.45"/>
<circle cx="208.9" cy="306.2" r="1.45"/>
<circle cx="208.6" cy="308.0" r="1.45"/>
<circle cx="208.9" cy="308.4" r="1.45"/>
<circle cx="209.2" cy="309.7" r="1.45"/>
<circle cx="210.5" cy="301.3" r="1.45"/>
<circle cx="210.8" cy="302.9" r="1.45"/>
<circle cx="210.5" cy="304.7" r="1.45"/>
<circle cx="210.6" cy="306.2" r="1.45"/>
<circle cx="210.9" cy="307.1" r="1.45"/>
<circle cx="210.7" cy="308.7" r="1.45"/>
<circle cx="213.0" cy="303.0" r="1.45"/>
<circle cx="212.8" cy="305.6" r="1.45"/>
<circle cx="212.5" cy="307.7" r="1.45"/>
<circle cx="212.6" cy="310.6" r="1.45"/>
<circle cx="214.5" cy="301.8" r="1.45"/>
<circle cx="214.5" cy="303.5" r="1.45"/>
<circle cx="214.8" cy="304.0" r="1.45"/>
<circle cx="214.5" cy="304.2" r="1.45"/>
<circle cx="214.7" cy="305.5" r="1.45"/>
<circle cx="214.7" cy="306.0" r="1.45"/>
<circle cx="214.6" cy="307.1" r="1.45"/>
<circle cx="214.8" cy="308.3" r="1.45"/>
<circle cx="216.4" cy="302.2" r="1.45"/>
<circle cx="216.6" cy="304.0" r="1.45"/>
<circle cx="216.5" cy="306.3" r="1.45"/>
<circle cx="216.6" cy="308.0" r="1.45"/>
<circle cx="218.3" cy="304.3" r="1.45"/>
<circle cx="218.1" cy="305.6" r="1.45"/>
<circle cx="218.5" cy="306.8" r="1.45"/>
<circle cx="218.3" cy="307.4" r="1.45"/>
<circle cx="218.6" cy="309.2" r="1.45"/>
<circle cx="220.1" cy="301.6" r="1.45"/>
<circle cx="220.6" cy="302.9" r="1.45"/>
<circle cx="220.0" cy="303.6" r="1.45"/>
<circle cx="220.2" cy="304.6" r="1.45"/>
<circle cx="220.5" cy="306.4" r="1.45"/>
<circle cx="220.1" cy="307.0" r="1.45"/>
<circle cx="220.1" cy="307.7" r="1.45"/>
<circle cx="220.3" cy="309.5" r="1.45"/>
<circle cx="223.9" cy="303.0" r="1.45"/>
<circle cx="224.1" cy="305.1" r="1.45"/>
<circle cx="224.0" cy="306.5" r="1.45"/>
<circle cx="224.3" cy="308.0" r="1.45"/>
<circle cx="224.4" cy="310.3" r="1.45"/>
<circle cx="227.9" cy="301.6" r="1.45"/>
<circle cx="227.7" cy="302.0" r="1.45"/>
<circle cx="227.9" cy="303.7" r="1.45"/>
<circle cx="228.1" cy="304.2" r="1.45"/>
<circle cx="227.7" cy="306.2" r="1.45"/>
<circle cx="227.7" cy="307.2" r="1.45"/>
<circle cx="228.1" cy="308.1" r="1.45"/>
<circle cx="227.8" cy="309.6" r="1.45"/>
<circle cx="229.6" cy="302.7" r="1.45"/>
<circle cx="229.7" cy="304.7" r="1.45"/>
<circle cx="229.9" cy="305.3" r="1.45"/>
<circle cx="229.6" cy="306.6" r="1.45"/>
<circle cx="229.9" cy="308.3" r="1.45"/>
<circle cx="229.9" cy="309.8" r="1.45"/>
<circle cx="231.5" cy="303.3" r="1.45"/>
<circle cx="231.9" cy="306.7" r="1.45"/>
<circle cx="231.8" cy="310.6" r="1.45"/>
<circle cx="233.5" cy="301.4" r="1.45"/>
<circle cx="233.8" cy="303.1" r="1.45"/>
<circle cx="233.3" cy="304.8" r="1.45"/>
<circle cx="233.7" cy="305.9" r="1.45"/>
<circle cx="233.7" cy="307.0" r="1.45"/>
<circle cx="233.4" cy="308.9" r="1.45"/>
<circle cx="235.3" cy="301.3" r="1.45"/>
<circle cx="235.3" cy="303.9" r="1.45"/>
<circle cx="235.8" cy="306.5" r="1.45"/>
<circle cx="235.8" cy="309.2" r="1.45"/>
<circle cx="237.6" cy="303.1" r="1.45"/>
<circle cx="237.2" cy="305.2" r="1.45"/>
<circle cx="237.4" cy="306.7" r="1.45"/>
<circle cx="237.3" cy="309.4" r="1.45"/>
<circle cx="239.3" cy="301.3" r="1.45"/>
<circle cx="239.3" cy="302.5" r="1.45"/>
<circle cx="239.4" cy="304.1" r="1.45"/>
<circle cx="239.0" cy="306.0" r="1.45"/>
<circle cx="239.3" cy="307.1" r="1.45"/>
<circle cx="239.2" cy="309.1" r="1.45"/>
<circle cx="241.4" cy="302.6" r="1.45"/>
<circle cx="241.3" cy="303.1" r="1.45"/>
<circle cx="241.3" cy="304.4" r="1.45"/>
<circle cx="241.3" cy="305.4" r="1.45"/>
<circle cx="241.2" cy="305.2" r="1.45"/>
<circle cx="241.0" cy="306.6" r="1.45"/>
<circle cx="241.4" cy="306.9" r="1.45"/>
<circle cx="241.0" cy="308.4" r="1.45"/>
<circle cx="243.4" cy="301.3" r="1.45"/>
<circle cx="242.8" cy="303.4" r="1.45"/>
<circle cx="242.9" cy="304.7" r="1.45"/>
<circle cx="243.2" cy="307.4" r="1.45"/>
<circle cx="243.1" cy="309.3" r="1.45"/>
<circle cx="245.2" cy="302.0" r="1.45"/>
<circle cx="244.7" cy="302.5" r="1.45"/>
<circle cx="245.1" cy="303.7" r="1.45"/>
<circle cx="244.8" cy="305.5" r="1.45"/>
<circle cx="245.2" cy="306.9" r="1.45"/>
<circle cx="245.1" cy="307.3" r="1.45"/>
<circle cx="244.9" cy="308.7" r="1.45"/>
<circle cx="246.7" cy="301.3" r="1.45"/>
<circle cx="247.2" cy="302.4" r="1.45"/>
<circle cx="246.9" cy="305.0" r="1.45"/>
<circle cx="247.1" cy="307.2" r="1.45"/>
<circle cx="246.8" cy="309.4" r="1.45"/>
<circle cx="249.0" cy="301.4" r="1.45"/>
<circle cx="248.7" cy="305.3" r="1.45"/>
<circle cx="249.0" cy="308.3" r="1.45"/>
<circle cx="250.6" cy="301.9" r="1.45"/>
<circle cx="250.6" cy="305.2" r="1.45"/>
<circle cx="251.0" cy="308.6" r="1.45"/>
<circle cx="252.9" cy="303.9" r="1.45"/>
<circle cx="252.6" cy="305.3" r="1.45"/>
<circle cx="252.7" cy="305.9" r="1.45"/>
<circle cx="252.4" cy="306.5" r="1.45"/>
<circle cx="252.8" cy="307.4" r="1.45"/>
<circle cx="252.6" cy="308.1" r="1.45"/>
<circle cx="252.9" cy="308.3" r="1.45"/>
<circle cx="254.7" cy="302.8" r="1.45"/>
<circle cx="254.4" cy="303.6" r="1.45"/>
<circle cx="254.6" cy="304.7" r="1.45"/>
<circle cx="254.4" cy="306.2" r="1.45"/>
<circle cx="254.6" cy="308.2" r="1.45"/>
<circle cx="254.6" cy="309.1" r="1.45"/>
<circle cx="254.6" cy="310.4" r="1.45"/>
<circle cx="261.0" cy="304.0" r="1.45"/>
<circle cx="261.0" cy="309.0" r="1.45"/>
<circle cx="264.0" cy="303.0" r="1.45"/>
<circle cx="266.0" cy="307.0" r="1.45"/>
<circle cx="268.0" cy="311.0" r="1.45"/>
<circle cx="273.0" cy="306.0" r="1.45"/>
<circle cx="282.0" cy="303.0" r="1.45"/>
<circle cx="283.0" cy="308.0" r="1.45"/>
<circle cx="285.0" cy="310.0" r="1.45"/>
<circle cx="289.0" cy="306.0" r="1.45"/>
<circle cx="293.0" cy="305.0" r="1.45"/>
<circle cx="295.0" cy="308.0" r="1.45"/>
<circle cx="297.0" cy="303.0" r="1.45"/>
<circle cx="299.0" cy="307.0" r="1.45"/>
<circle cx="291.0" cy="306.0" r="1.45"/>
<circle cx="295.0" cy="304.0" r="1.45"/>
<circle cx="296.0" cy="309.0" r="1.45"/>
<circle cx="298.0" cy="306.0" r="1.45"/>
<circle cx="313.0" cy="302.9" r="1.45"/>
<circle cx="317.0" cy="304.0" r="1.45"/>
<circle cx="318.0" cy="308.0" r="1.45"/>
<circle cx="320.0" cy="306.0" r="1.45"/>
<circle cx="321.0" cy="310.0" r="1.45"/>
<circle cx="325.0" cy="308.0" r="1.45"/>
<circle cx="331.0" cy="310.0" r="1.45"/>
<circle cx="333.0" cy="303.0" r="1.45"/>
<circle cx="334.0" cy="307.0" r="1.45"/>
<circle cx="335.0" cy="310.0" r="1.45"/>
<circle cx="352.0" cy="306.7" r="1.45"/>
<circle cx="357.0" cy="303.5" r="1.45"/>
<circle cx="357.0" cy="306.0" r="1.45"/>
<circle cx="360.0" cy="307.0" r="1.45"/>
<circle cx="369.0" cy="302.0" r="1.45"/>
<circle cx="369.0" cy="305.0" r="1.45"/>
<circle cx="369.0" cy="308.0" r="1.45"/>
<circle cx="369.0" cy="310.0" r="1.45"/>
<circle cx="379.0" cy="298.5" r="1.45"/>
<circle cx="379.0" cy="302.0" r="1.45"/>
<circle cx="379.0" cy="305.0" r="1.45"/>
<circle cx="379.0" cy="308.0" r="1.45"/>
<circle cx="379.0" cy="311.5" r="1.45"/>
<circle cx="385.0" cy="303.0" r="1.45"/>
<circle cx="385.0" cy="310.0" r="1.45"/>
<circle cx="399.5" cy="301.6" r="1.45"/>
<circle cx="422.0" cy="307.5" r="1.45"/>
<circle cx="473.0" cy="306.5" r="1.45"/>
<circle cx="151.1" cy="357.5" r="1.45"/>
<circle cx="150.9" cy="358.9" r="1.45"/>
<circle cx="150.9" cy="360.4" r="1.45"/>
<circle cx="150.9" cy="361.8" r="1.45"/>
<circle cx="151.1" cy="363.2" r="1.45"/>
<circle cx="151.0" cy="364.7" r="1.45"/>
<circle cx="151.0" cy="366.1" r="1.45"/>
<circle cx="151.2" cy="367.6" r="1.45"/>
<circle cx="151.5" cy="369.0" r="1.45"/>
<circle cx="152.3" cy="358.0" r="1.45"/>
<circle cx="152.1" cy="360.0" r="1.45"/>
<circle cx="152.4" cy="362.0" r="1.45"/>
<circle cx="152.0" cy="364.0" r="1.45"/>
<circle cx="152.0" cy="366.0" r="1.45"/>
<circle cx="152.1" cy="368.0" r="1.45"/>
<circle cx="151.0" cy="372.0" r="1.45"/>
<circle cx="155.5" cy="365.0" r="1.45"/>
<circle cx="158.0" cy="367.0" r="1.45"/>
<circle cx="160.0" cy="363.5" r="1.45"/>
<circle cx="163.0" cy="366.0" r="1.45"/>
<circle cx="179.0" cy="361.5" r="1.45"/>
<circle cx="179.0" cy="367.0" r="1.45"/>
<circle cx="168.5" cy="358.5" r="1.45"/>
<circle cx="168.7" cy="360.6" r="1.45"/>
<circle cx="168.6" cy="362.7" r="1.45"/>
<circle cx="168.7" cy="364.8" r="1.45"/>
<circle cx="168.4" cy="366.9" r="1.45"/>
<circle cx="168.9" cy="369.0" r="1.45"/>
<circle cx="170.5" cy="358.5" r="1.45"/>
<circle cx="170.8" cy="360.6" r="1.45"/>
<circle cx="170.3" cy="362.7" r="1.45"/>
<circle cx="170.8" cy="364.8" r="1.45"/>
<circle cx="170.4" cy="366.9" r="1.45"/>
<circle cx="170.8" cy="369.0" r="1.45"/>
<circle cx="186.7" cy="360.1" r="1.45"/>
<circle cx="186.6" cy="361.2" r="1.45"/>
<circle cx="186.6" cy="362.8" r="1.45"/>
<circle cx="186.3" cy="363.5" r="1.45"/>
<circle cx="186.8" cy="364.5" r="1.45"/>
<circle cx="186.6" cy="366.0" r="1.45"/>
<circle cx="188.7" cy="361.4" r="1.45"/>
<circle cx="188.3" cy="363.2" r="1.45"/>
<circle cx="188.2" cy="364.0" r="1.45"/>
<circle cx="188.5" cy="364.9" r="1.45"/>
<circle cx="188.2" cy="366.1" r="1.45"/>
<circle cx="190.6" cy="359.7" r="1.45"/>
<circle cx="190.4" cy="360.9" r="1.45"/>
<circle cx="190.5" cy="364.0" r="1.45"/>
<circle cx="190.1" cy="366.2" r="1.45"/>
<circle cx="190.2" cy="368.5" r="1.45"/>
<circle cx="191.9" cy="361.1" r="1.45"/>
<circle cx="192.0" cy="363.9" r="1.45"/>
<circle cx="192.3" cy="366.4" r="1.45"/>
<circle cx="192.0" cy="368.6" r="1.45"/>
<circle cx="193.9" cy="359.7" r="1.45"/>
<circle cx="194.1" cy="361.8" r="1.45"/>
<circle cx="194.0" cy="364.0" r="1.45"/>
<circle cx="194.1" cy="366.0" r="1.45"/>
<circle cx="193.9" cy="368.7" r="1.45"/>
<circle cx="195.8" cy="363.1" r="1.45"/>
<circle cx="196.2" cy="363.5" r="1.45"/>
<circle cx="195.7" cy="364.4" r="1.45"/>
<circle cx="196.3" cy="365.2" r="1.45"/>
<circle cx="196.1" cy="366.2" r="1.45"/>
<circle cx="196.0" cy="366.6" r="1.45"/>
<circle cx="195.8" cy="367.7" r="1.45"/>
<circle cx="197.8" cy="362.6" r="1.45"/>
<circle cx="198.0" cy="363.5" r="1.45"/>
<circle cx="198.1" cy="364.7" r="1.45"/>
<circle cx="198.0" cy="365.5" r="1.45"/>
<circle cx="198.0" cy="365.8" r="1.45"/>
<circle cx="198.0" cy="367.4" r="1.45"/>
<circle cx="199.9" cy="363.1" r="1.45"/>
<circle cx="199.7" cy="364.0" r="1.45"/>
<circle cx="199.6" cy="365.0" r="1.45"/>
<circle cx="199.9" cy="365.3" r="1.45"/>
<circle cx="199.5" cy="367.0" r="1.45"/>
<circle cx="199.5" cy="367.3" r="1.45"/>
<circle cx="201.5" cy="359.7" r="1.45"/>
<circle cx="201.4" cy="361.4" r="1.45"/>
<circle cx="201.6" cy="363.6" r="1.45"/>
<circle cx="201.4" cy="366.1" r="1.45"/>
<circle cx="201.9" cy="368.1" r="1.45"/>
<circle cx="203.4" cy="360.3" r="1.45"/>
<circle cx="203.6" cy="362.4" r="1.45"/>
<circle cx="203.9" cy="363.5" r="1.45"/>
<circle cx="203.5" cy="365.4" r="1.45"/>
<circle cx="203.7" cy="367.3" r="1.45"/>
<circle cx="205.3" cy="360.0" r="1.45"/>
<circle cx="205.6" cy="361.6" r="1.45"/>
<circle cx="205.5" cy="362.9" r="1.45"/>
<circle cx="205.4" cy="364.5" r="1.45"/>
<circle cx="205.4" cy="366.3" r="1.45"/>
<circle cx="205.7" cy="367.8" r="1.45"/>
<circle cx="209.1" cy="359.7" r="1.45"/>
<circle cx="209.3" cy="360.8" r="1.45"/>
<circle cx="209.5" cy="362.4" r="1.45"/>
<circle cx="209.5" cy="364.4" r="1.45"/>
<circle cx="209.2" cy="366.5" r="1.45"/>
<circle cx="209.2" cy="368.2" r="1.45"/>
<circle cx="211.4" cy="360.3" r="1.45"/>
<circle cx="211.0" cy="363.5" r="1.45"/>
<circle cx="211.1" cy="366.5" r="1.45"/>
<circle cx="211.3" cy="369.1" r="1.45"/>
<circle cx="213.2" cy="361.5" r="1.45"/>
<circle cx="213.3" cy="362.4" r="1.45"/>
<circle cx="212.9" cy="363.2" r="1.45"/>
<circle cx="213.3" cy="363.0" r="1.45"/>
<circle cx="212.9" cy="364.2" r="1.45"/>
<circle cx="213.0" cy="365.0" r="1.45"/>
<circle cx="213.0" cy="365.3" r="1.45"/>
<circle cx="213.2" cy="366.2" r="1.45"/>
<circle cx="215.2" cy="360.8" r="1.45"/>
<circle cx="215.0" cy="362.6" r="1.45"/>
<circle cx="215.1" cy="365.8" r="1.45"/>
<circle cx="214.8" cy="368.2" r="1.45"/>
<circle cx="218.8" cy="359.7" r="1.45"/>
<circle cx="218.6" cy="361.0" r="1.45"/>
<circle cx="218.7" cy="363.7" r="1.45"/>
<circle cx="218.7" cy="366.0" r="1.45"/>
<circle cx="218.7" cy="368.1" r="1.45"/>
<circle cx="222.7" cy="362.4" r="1.45"/>
<circle cx="222.6" cy="363.1" r="1.45"/>
<circle cx="222.5" cy="363.9" r="1.45"/>
<circle cx="222.5" cy="364.9" r="1.45"/>
<circle cx="222.5" cy="366.1" r="1.45"/>
<circle cx="222.7" cy="367.1" r="1.45"/>
<circle cx="224.4" cy="360.5" r="1.45"/>
<circle cx="224.3" cy="362.0" r="1.45"/>
<circle cx="224.6" cy="363.2" r="1.45"/>
<circle cx="224.4" cy="365.3" r="1.45"/>
<circle cx="224.6" cy="367.0" r="1.45"/>
<circle cx="226.5" cy="361.9" r="1.45"/>
<circle cx="226.1" cy="363.7" r="1.45"/>
<circle cx="226.5" cy="366.5" r="1.45"/>
<circle cx="226.1" cy="368.7" r="1.45"/>
<circle cx="228.1" cy="361.1" r="1.45"/>
<circle cx="228.5" cy="363.0" r="1.45"/>
<circle cx="228.0" cy="363.5" r="1.45"/>
<circle cx="228.1" cy="364.6" r="1.45"/>
<circle cx="228.3" cy="365.8" r="1.45"/>
<circle cx="230.1" cy="361.2" r="1.45"/>
<circle cx="230.0" cy="362.0" r="1.45"/>
<circle cx="230.0" cy="363.3" r="1.45"/>
<circle cx="230.3" cy="364.9" r="1.45"/>
<circle cx="230.4" cy="365.7" r="1.45"/>
<circle cx="230.1" cy="367.4" r="1.45"/>
<circle cx="232.3" cy="362.2" r="1.45"/>
<circle cx="232.1" cy="364.0" r="1.45"/>
<circle cx="231.8" cy="365.3" r="1.45"/>
<circle cx="231.8" cy="367.2" r="1.45"/>
<circle cx="231.8" cy="369.1" r="1.45"/>
<circle cx="233.8" cy="360.6" r="1.45"/>
<circle cx="234.0" cy="362.5" r="1.45"/>
<circle cx="233.8" cy="363.3" r="1.45"/>
<circle cx="233.8" cy="365.2" r="1.45"/>
<circle cx="233.8" cy="366.6" r="1.45"/>
<circle cx="234.0" cy="367.6" r="1.45"/>
<circle cx="234.1" cy="369.1" r="1.45"/>
<circle cx="236.0" cy="361.4" r="1.45"/>
<circle cx="236.1" cy="363.1" r="1.45"/>
<circle cx="235.8" cy="364.5" r="1.45"/>
<circle cx="235.8" cy="366.8" r="1.45"/>
<circle cx="206.0" cy="355.8" r="1.45"/>
<circle cx="243.0" cy="360.0" r="1.45"/>
<circle cx="244.0" cy="364.0" r="1.45"/>
<circle cx="245.0" cy="368.0" r="1.45"/>
<circle cx="246.0" cy="362.0" r="1.45"/>
<circle cx="249.0" cy="366.0" r="1.45"/>
<circle cx="253.0" cy="368.0" r="1.45"/>
<circle cx="258.0" cy="365.0" r="1.45"/>
<circle cx="265.0" cy="360.0" r="1.45"/>
<circle cx="265.0" cy="363.0" r="1.45"/>
<circle cx="265.0" cy="366.0" r="1.45"/>
<circle cx="265.0" cy="368.5" r="1.45"/>
<circle cx="273.0" cy="361.0" r="1.45"/>
<circle cx="284.0" cy="366.0" r="1.45"/>
<circle cx="294.0" cy="364.0" r="1.45"/>
<circle cx="294.0" cy="363.0" r="1.45"/>
<circle cx="303.0" cy="363.0" r="1.45"/>
<circle cx="303.0" cy="366.0" r="1.45"/>
<circle cx="322.0" cy="362.0" r="1.45"/>
<circle cx="322.0" cy="364.5" r="1.45"/>
<circle cx="337.0" cy="367.0" r="1.45"/>
<circle cx="341.0" cy="358.0" r="1.45"/>
<circle cx="341.0" cy="361.0" r="1.45"/>
<circle cx="341.0" cy="364.0" r="1.45"/>
<circle cx="341.0" cy="367.0" r="1.45"/>
</g>
<line x1="151" y1="5.3" x2="151" y2="407" stroke="#d5838d" stroke-opacity="0.8" stroke-width="1.6" stroke-dasharray="3.7,2.7"/>
<text x="186.2" y="66.9" font-family="Liberation Sans, Arial, sans-serif" font-size="8.3" fill="#111" stroke="#111" stroke-width="0.28" textLength="30.4" lengthAdjust="spacing">Median</text>
<text x="184.0" y="101.3" font-family="Liberation Sans, Arial, sans-serif" font-size="8.3" fill="#111" stroke="#111" stroke-width="0.28" textLength="30.4" lengthAdjust="spacing">Median</text>
<text x="200.7" y="151.3" font-family="Liberation Sans, Arial, sans-serif" font-size="8.3" fill="#111" stroke="#111" stroke-width="0.28" textLength="30.4" lengthAdjust="spacing">Median</text>
<text x="212.3" y="214.1" font-family="Liberation Sans, Arial, sans-serif" font-size="8.3" fill="#111" stroke="#111" stroke-width="0.28" textLength="30.4" lengthAdjust="spacing">Median</text>
<text x="232.4" y="284.7" font-family="Liberation Sans, Arial, sans-serif" font-size="8.3" fill="#111" stroke="#111" stroke-width="0.28" textLength="30.4" lengthAdjust="spacing">Median</text>
<text x="192.9" y="334.6" font-family="Liberation Sans, Arial, sans-serif" font-size="8.3" fill="#111" stroke="#111" stroke-width="0.28" textLength="30.4" lengthAdjust="spacing">Median</text>
<path d="M55.7,3.1 H540.3 V407.8" fill="none" stroke="#111" stroke-width="1.9"/>
<line x1="55.7" y1="2.2" x2="55.7" y2="408.7" stroke="#222" stroke-width="1.6"/>
<line x1="55" y1="407.8" x2="387" y2="407.8" stroke="#1a1a1a" stroke-width="1.9"/>
<line x1="397.5" y1="407.8" x2="541.2" y2="407.8" stroke="#1a1a1a" stroke-width="1.9"/>
<line x1="384.4" y1="400.6" x2="392.5" y2="415.4" stroke="#111" stroke-width="1.5"/>
<line x1="393.5" y1="400.6" x2="401.1" y2="415.4" stroke="#111" stroke-width="1.5"/>
<line x1="151.0" y1="408" x2="151.0" y2="415.5" stroke="#262626" stroke-width="1.7"/>
<text x="150.2" y="432.8" text-anchor="middle" font-family="Liberation Serif, Times New Roman, serif" font-size="13.5" fill="#111">0</text>
<line x1="261.0" y1="408" x2="261.0" y2="415.5" stroke="#262626" stroke-width="1.7"/>
<text x="259.5" y="432.8" text-anchor="middle" font-family="Liberation Serif, Times New Roman, serif" font-size="13.5" fill="#111">58</text>
<line x1="371.7" y1="408" x2="371.7" y2="415.5" stroke="#262626" stroke-width="1.7"/>
<text x="370.2" y="432.8" text-anchor="middle" font-family="Liberation Serif, Times New Roman, serif" font-size="13.5" fill="#111">116</text>
<line x1="444.7" y1="408" x2="444.7" y2="415.5" stroke="#262626" stroke-width="1.7"/>
<text x="442.8" y="432.8" text-anchor="middle" font-family="Liberation Serif, Times New Roman, serif" font-size="13.5" fill="#111">550</text>
<line x1="493.0" y1="408" x2="493.0" y2="415.5" stroke="#262626" stroke-width="1.7"/>
<text x="490.4" y="432.8" text-anchor="middle" font-family="Liberation Serif, Times New Roman, serif" font-size="13.5" fill="#111">575</text>
<line x1="540.3" y1="408" x2="540.3" y2="415.5" stroke="#262626" stroke-width="1.7"/>
<text x="537.5" y="432.8" text-anchor="middle" font-family="Liberation Serif, Times New Roman, serif" font-size="13.5" fill="#111">600</text>
<text x="47.2" y="62.8" text-anchor="end" font-family="Liberation Serif, Times New Roman, serif" font-style="italic" fill="#111" font-size="13.5">γ</text>
<text x="48" y="122.5" text-anchor="end" font-family="Liberation Serif, Times New Roman, serif" font-style="italic" fill="#111" font-size="14">c</text>
<text x="45.6" y="180.8" text-anchor="end" font-family="Liberation Serif, Times New Roman, serif" font-style="italic" fill="#111" font-size="14.5">f</text>
<text x="47.2" y="239" text-anchor="end" font-family="Liberation Serif, Times New Roman, serif" font-style="italic" fill="#111" font-size="14">β</text>
<text x="46.9" y="296.6" text-anchor="end" font-family="Liberation Serif, Times New Roman, serif" font-style="italic" fill="#111" font-size="13.8">H</text>
<text x="1.2" y="354" font-family="Liberation Serif, Times New Roman, serif" font-style="italic" fill="#111" font-size="16">r</text>
<text x="6.8" y="357" font-family="Liberation Serif, Times New Roman, serif" font-style="italic" fill="#111" font-size="6.5">u</text>
<text x="15.2" y="355.6" font-family="Liberation Serif, Times New Roman, serif" fill="#111" font-size="20.5">×</text>
<text x="48.2" y="354.2" text-anchor="end" font-family="Liberation Serif, Times New Roman, serif" fill="#111" font-size="14.5">100</text>
<rect x="335.2" y="144.1" width="205.1" height="132.9" fill="#fff" stroke="none"/>
<path d="M540.3,144.1 H335.2 V277.1 H540.3" fill="none" stroke="#3a3a3a" stroke-width="1.35"/>
<path d="M344.6,268.4 V210.3 H383 L480,159.8 H526.5 V268.4 Z" fill="none" stroke="#505050" stroke-width="1.05"/>
<line x1="360" y1="159.7" x2="408.5" y2="159.7" stroke="#444" stroke-width="1.2"/>
<line x1="382.9" y1="161" x2="382.9" y2="209.5" stroke="#bbb" stroke-width="0.8"/>
<path d="M381.6,163.5 L382.9,160.6 L384.2,163.5 Z M381.6,207 L382.9,209.9 L384.2,207 Z" fill="#222"/>
<line x1="383" y1="210.3" x2="437" y2="210.3" stroke="#e4e4e4" stroke-width="0.8"/>
<line x1="407.7" y1="197.1" x2="499" y2="176.5" stroke="#4040ac" stroke-width="1.1" stroke-dasharray="4,3"/>
<path d="M463.6,176.6 L470.8,175 L468.8,183 Z" fill="none" stroke="#222" stroke-width="1"/>
<path d="M383,210 A78.0,78.0 0 0 0 502.7,162.2" fill="none" stroke="#c94a5c" stroke-width="1.3" stroke-dasharray="4.5,3"/>
<path d="M431.7,185.9 A54.5,54.5 0 0 1 437.6,207" fill="none" stroke="#555" stroke-width="0.8" stroke-dasharray="1.2,1.2"/>
<path d="M436.2,206 L437.8,209.6 L439.2,206.2 Z" fill="#222"/>
<text x="444" y="213.6" font-family="Liberation Serif, Times New Roman, serif" font-style="italic" fill="#111" font-size="12.5">β</text>
<text x="356.5" y="194.8" font-family="Liberation Serif, Times New Roman, serif" font-style="italic" fill="#111" font-size="13">H</text>
<text x="399.5" y="153.6" font-family="Liberation Serif, Times New Roman, serif" font-style="italic" fill="#111" font-size="13" textLength="43.3" lengthAdjust="spacingAndGlyphs">γ, c, φ, r</text>
<text x="443.2" y="156.8" font-family="Liberation Serif, Times New Roman, serif" font-style="italic" fill="#111" font-size="7.5">u</text>
<text x="404" y="233.8" font-family="Liberation Sans, Arial, sans-serif" font-size="14" fill="#111" stroke="#111" stroke-width="0.15">Slip surface</text>
</svg>
</body></html>
